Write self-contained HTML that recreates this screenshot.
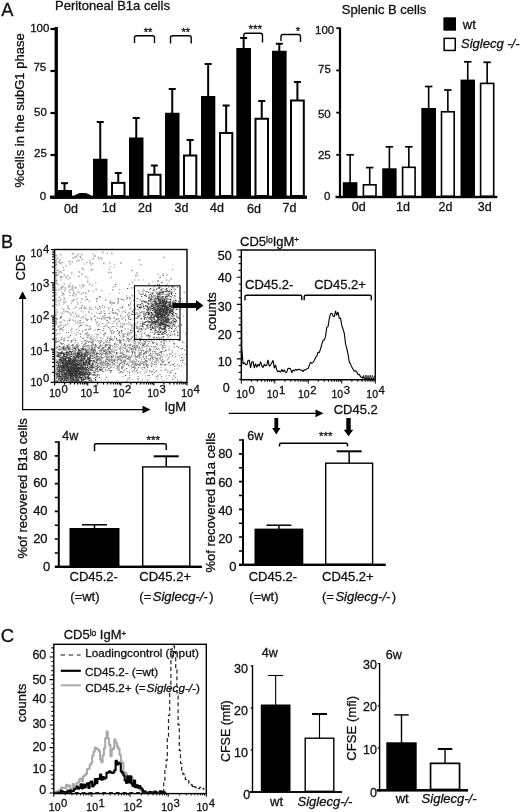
<!DOCTYPE html>
<html lang="en">
<head>
<meta charset="utf-8">
<title>Figure</title>
<style>
html,body{margin:0;padding:0;background:#fff;}
body{width:520px;height:812px;overflow:hidden;}
svg{display:block;font-family:'Liberation Sans', Arial, Helvetica, sans-serif;}
text{stroke:#111;stroke-width:0.3px;}
</style>
</head>
<body>
<svg width="520" height="812" viewBox="0 0 520 812">
<rect width="520" height="812" fill="#fff"/>
<text x="1.2" y="15.6" font-size="18.3" text-anchor="start" fill="#111">A</text>
<text x="55" y="9.9" font-size="13" text-anchor="start" fill="#111">Peritoneal B1a cells</text>
<text x="24.3" y="110.4" font-size="13.03" text-anchor="middle" transform="rotate(-90 24.3 110.4)" fill="#111">%cells in the subG1 phase</text>
<rect x="54.6" y="27" width="3.3" height="171.7" fill="#000"/>
<rect x="50" y="195.6" width="257" height="3.3" fill="#000"/>
<rect x="50.5" y="153.9" width="5.5" height="2.2" fill="#000"/>
<rect x="50.5" y="111.9" width="5.5" height="2.2" fill="#000"/>
<rect x="50.5" y="69.9" width="5.5" height="2.2" fill="#000"/>
<rect x="50.5" y="27.9" width="5.5" height="2.2" fill="#000"/>
<text x="49.4" y="31.6" font-size="11.5" text-anchor="end" fill="#111">100</text>
<text x="46.2" y="71.3" font-size="11.5" text-anchor="end" fill="#111">75</text>
<text x="46.9" y="115.7" font-size="11.5" text-anchor="end" fill="#111">50</text>
<text x="46.9" y="156.5" font-size="11.5" text-anchor="end" fill="#111">25</text>
<text x="46.2" y="200.2" font-size="11.5" text-anchor="end" fill="#111">0</text>
<line x1="64.5" y1="183.2" x2="64.5" y2="191" stroke="#000" stroke-width="2"/>
<line x1="61" y1="183.2" x2="68" y2="183.2" stroke="#000" stroke-width="2"/>
<rect x="57" y="190" width="15" height="7" fill="#000"/>
<line x1="100.25" y1="122" x2="100.25" y2="159.75" stroke="#000" stroke-width="2"/>
<line x1="96.75" y1="122" x2="103.75" y2="122" stroke="#000" stroke-width="2"/>
<rect x="93" y="158.75" width="14.5" height="38.25" fill="#000"/>
<line x1="118.25" y1="173" x2="118.25" y2="182.9" stroke="#000" stroke-width="2"/>
<line x1="114.75" y1="173" x2="121.75" y2="173" stroke="#000" stroke-width="2"/>
<rect x="112" y="182.9" width="12.5" height="13.1" fill="#fff" stroke="#000" stroke-width="2"/>
<line x1="136.25" y1="118" x2="136.25" y2="138.5" stroke="#000" stroke-width="2"/>
<line x1="132.75" y1="118" x2="139.75" y2="118" stroke="#000" stroke-width="2"/>
<rect x="129" y="137.5" width="14.5" height="59.5" fill="#000"/>
<line x1="154.4" y1="165.5" x2="154.4" y2="174.75" stroke="#000" stroke-width="2"/>
<line x1="150.9" y1="165.5" x2="157.9" y2="165.5" stroke="#000" stroke-width="2"/>
<rect x="148.3" y="174.75" width="12.2" height="21.25" fill="#fff" stroke="#000" stroke-width="2"/>
<line x1="172.25" y1="89" x2="172.25" y2="113.75" stroke="#000" stroke-width="2"/>
<line x1="168.75" y1="89" x2="175.75" y2="89" stroke="#000" stroke-width="2"/>
<rect x="165" y="112.75" width="14.5" height="84.25" fill="#000"/>
<line x1="190.15" y1="140" x2="190.15" y2="155.5" stroke="#000" stroke-width="2"/>
<line x1="186.65" y1="140" x2="193.65" y2="140" stroke="#000" stroke-width="2"/>
<rect x="184" y="155.5" width="12.3" height="40.5" fill="#fff" stroke="#000" stroke-width="2"/>
<line x1="208.15" y1="64" x2="208.15" y2="97" stroke="#000" stroke-width="2"/>
<line x1="204.65" y1="64" x2="211.65" y2="64" stroke="#000" stroke-width="2"/>
<rect x="201" y="96" width="14.3" height="101" fill="#000"/>
<line x1="226.15" y1="105.5" x2="226.15" y2="133" stroke="#000" stroke-width="2"/>
<line x1="222.65" y1="105.5" x2="229.65" y2="105.5" stroke="#000" stroke-width="2"/>
<rect x="220" y="133" width="12.3" height="63" fill="#fff" stroke="#000" stroke-width="2"/>
<line x1="243.65" y1="38" x2="243.65" y2="49" stroke="#000" stroke-width="2"/>
<line x1="240.15" y1="38" x2="247.15" y2="38" stroke="#000" stroke-width="2"/>
<rect x="236.3" y="48" width="14.7" height="149" fill="#000"/>
<line x1="261.75" y1="101" x2="261.75" y2="118.75" stroke="#000" stroke-width="2"/>
<line x1="258.25" y1="101" x2="265.25" y2="101" stroke="#000" stroke-width="2"/>
<rect x="255.5" y="118.75" width="12.5" height="77.25" fill="#fff" stroke="#000" stroke-width="2"/>
<line x1="279.3" y1="43.75" x2="279.3" y2="51.75" stroke="#000" stroke-width="2"/>
<line x1="275.8" y1="43.75" x2="282.8" y2="43.75" stroke="#000" stroke-width="2"/>
<rect x="272" y="50.75" width="14.6" height="146.25" fill="#000"/>
<line x1="297.4" y1="82" x2="297.4" y2="100.5" stroke="#000" stroke-width="2"/>
<line x1="293.9" y1="82" x2="300.9" y2="82" stroke="#000" stroke-width="2"/>
<rect x="291" y="100.5" width="12.8" height="95.5" fill="#fff" stroke="#000" stroke-width="2"/>
<path d="M74.5 197V195.6Q77 193.6 80 192.9H85.5Q88.5 193.6 91 195.6V197Z" fill="#000" stroke="none" stroke-width="0"/>
<path d="M134.5 43 V37.75 Q134.5 35.75 136.5 35.75 H152.5 Q154.5 35.75 154.5 37.75 V43" fill="none" stroke="#000" stroke-width="1.4"/>
<path d="M170.5 43.5 V37.75 Q170.5 35.75 172.5 35.75 H189.2 Q191.2 35.75 191.2 37.75 V43.5" fill="none" stroke="#000" stroke-width="1.4"/>
<path d="M243.75 38 V35.25 Q243.75 33.25 245.75 33.25 H260.5 Q262.5 33.25 262.5 35.25 V42.5" fill="none" stroke="#000" stroke-width="1.4"/>
<path d="M281 41 V36.5 Q281 34.5 283 34.5 H298.5 Q300.5 34.5 300.5 36.5 V42" fill="none" stroke="#000" stroke-width="1.4"/>
<text x="148.1" y="36.2" font-size="11" text-anchor="middle" fill="#111">**</text>
<text x="185.8" y="36.2" font-size="11" text-anchor="middle" fill="#111">**</text>
<text x="255.3" y="33.2" font-size="11.5" text-anchor="middle" fill="#111">***</text>
<text x="297.8" y="34.8" font-size="11" text-anchor="middle" fill="#111">*</text>
<text x="71" y="213.3" font-size="12.5" text-anchor="middle" fill="#111">0d</text>
<text x="109" y="211.5" font-size="12.5" text-anchor="middle" fill="#111">1d</text>
<text x="145" y="211.75" font-size="12.5" text-anchor="middle" fill="#111">2d</text>
<text x="181.5" y="211.75" font-size="12.5" text-anchor="middle" fill="#111">3d</text>
<text x="217" y="211.75" font-size="12.5" text-anchor="middle" fill="#111">4d</text>
<text x="254" y="213.25" font-size="12.5" text-anchor="middle" fill="#111">6d</text>
<text x="289.4" y="211.75" font-size="12.5" text-anchor="middle" fill="#111">7d</text>
<text x="341.8" y="13.6" font-size="13" text-anchor="start" fill="#111">Splenic B cells</text>
<rect x="338.9" y="27.5" width="2.2" height="170.7" fill="#000"/>
<rect x="335.5" y="195.8" width="161.8" height="2.4" fill="#000"/>
<rect x="336.3" y="153.91" width="3.7" height="1.8" fill="#000"/>
<rect x="336.3" y="111.72" width="3.7" height="1.8" fill="#000"/>
<rect x="336.3" y="69.54" width="3.7" height="1.8" fill="#000"/>
<rect x="336.3" y="27.35" width="3.7" height="1.8" fill="#000"/>
<text x="334.2" y="34.2" font-size="11.5" text-anchor="end" fill="#111">100</text>
<text x="330.9" y="73.1" font-size="11.5" text-anchor="end" fill="#111">75</text>
<text x="330.7" y="117.6" font-size="11.5" text-anchor="end" fill="#111">50</text>
<text x="330.7" y="158.7" font-size="11.5" text-anchor="end" fill="#111">25</text>
<text x="330.5" y="200.1" font-size="11.5" text-anchor="end" fill="#111">0</text>
<line x1="350.1" y1="154.8" x2="350.1" y2="183.2" stroke="#000" stroke-width="1.6"/>
<line x1="346.35" y1="154.8" x2="353.85" y2="154.8" stroke="#000" stroke-width="1.7"/>
<rect x="342.8" y="182.2" width="14.6" height="14.8" fill="#000"/>
<line x1="369.7" y1="167.6" x2="369.7" y2="185" stroke="#000" stroke-width="1.6"/>
<line x1="365.95" y1="167.6" x2="373.45" y2="167.6" stroke="#000" stroke-width="1.7"/>
<rect x="363.4" y="184.8" width="12.6" height="11.4" fill="#fff" stroke="#000" stroke-width="1.6"/>
<line x1="389.4" y1="146.8" x2="389.4" y2="169.3" stroke="#000" stroke-width="1.6"/>
<line x1="385.65" y1="146.8" x2="393.15" y2="146.8" stroke="#000" stroke-width="1.7"/>
<rect x="382.2" y="168.3" width="14.4" height="28.7" fill="#000"/>
<line x1="408.85" y1="146.8" x2="408.85" y2="167.5" stroke="#000" stroke-width="1.6"/>
<line x1="405.1" y1="146.8" x2="412.6" y2="146.8" stroke="#000" stroke-width="1.7"/>
<rect x="402.6" y="167.3" width="12.5" height="28.9" fill="#fff" stroke="#000" stroke-width="1.6"/>
<line x1="428.65" y1="86.5" x2="428.65" y2="109" stroke="#000" stroke-width="1.6"/>
<line x1="424.9" y1="86.5" x2="432.4" y2="86.5" stroke="#000" stroke-width="1.7"/>
<rect x="421.3" y="108" width="14.7" height="89" fill="#000"/>
<line x1="447.85" y1="90" x2="447.85" y2="112" stroke="#000" stroke-width="1.6"/>
<line x1="444.1" y1="90" x2="451.6" y2="90" stroke="#000" stroke-width="1.7"/>
<rect x="441.5" y="111.8" width="12.7" height="84.4" fill="#fff" stroke="#000" stroke-width="1.6"/>
<line x1="467.75" y1="61.8" x2="467.75" y2="80.6" stroke="#000" stroke-width="1.6"/>
<line x1="464" y1="61.8" x2="471.5" y2="61.8" stroke="#000" stroke-width="1.7"/>
<rect x="460.5" y="79.6" width="14.5" height="117.4" fill="#000"/>
<line x1="487.15" y1="62.3" x2="487.15" y2="83.6" stroke="#000" stroke-width="1.6"/>
<line x1="483.4" y1="62.3" x2="490.9" y2="62.3" stroke="#000" stroke-width="1.7"/>
<rect x="480.6" y="83.4" width="13.1" height="112.8" fill="#fff" stroke="#000" stroke-width="1.6"/>
<text x="358.7" y="211.4" font-size="12.5" text-anchor="middle" fill="#111">0d</text>
<text x="403" y="211.4" font-size="12.5" text-anchor="middle" fill="#111">1d</text>
<text x="445.5" y="211.4" font-size="12.5" text-anchor="middle" fill="#111">2d</text>
<text x="484.8" y="211.4" font-size="12.5" text-anchor="middle" fill="#111">3d</text>
<rect x="443.4" y="17.3" width="12.6" height="13.4" fill="#000"/>
<rect x="444.15" y="38.35" width="11.1" height="12.1" fill="#fff" stroke="#000" stroke-width="1.5"/>
<text x="462.8" y="28.8" font-size="13" text-anchor="start" fill="#111">wt</text>
<text x="461" y="47.8" font-size="13" text-anchor="start" font-style="italic" fill="#111">Siglecg -/-</text>
<text x="0.9" y="248.3" font-size="18" text-anchor="start" fill="#111">B</text>
<path d="M98 259h1.6M60.5 272.5h1.6M87 278h1.6M138 280h1.6M128.5 284.5h1.6M68.5 286h1.6M76.5 255.5h1.6M80 257.5h1.6M88.5 301.5h1.6M90 265h1.6M71 301h1.6M101 290.5h1.6M74 257h1.6M89 260.5h1.6M129 297.5h1.6M74.5 287.5h1.6M92 263.5h1.6M62.5 267.5h1.6M100.5 311.5h1.6M61.5 314h1.6M82.5 286.5h1.6M77.5 254h1.6M63 309.5h1.6M58.5 263h1.6M71.5 288h1.6M90.5 317.5h1.6M80.5 294h1.6M86 262.5h1.6M58 290h1.6M108.5 269.5h1.6M77 304h1.6M65.5 266h1.6M110.5 272.5h1.6M97.5 257.5h1.6M63.5 298h1.6M63 325.5h1.6M59.5 277h1.6M56 259h1.6M109 263h1.6M76 299h1.6M85 300h1.6M61.5 262.5h1.6M63.5 299.5h1.6M71.5 288.5h1.6M67 321h1.6M59 301h1.6M60 299.5h1.6M106.5 253.5h1.6M62 286.5h1.6M57 258h1.6M70.5 314.5h1.6M64 320.5h1.6M56 281h1.6M58 273h1.6M63.5 284h1.6M118.5 293h1.6M85 315h1.6M60 263.5h1.6M83 269.5h1.6M175.5 309.5h1.6M130.5 288h1.6M149 304h1.6M181.5 302h1.6M135.5 313h1.6M154.5 328.5h1.6M142.5 289.5h1.6M185 333.5h1.6M143.5 290.5h1.6M164 322.5h1.6M157.5 298.5h1.6M166 339.5h1.6M177 335.5h1.6M179 298.5h1.6M154 300h1.6M130.5 340h1.6M160 289.5h1.6M81.5 285h1.6M90 339h1.6M66.5 311.5h1.6M103.5 316h1.6M119.5 307.5h1.6M86.5 336h1.6M123.5 318h1.6M131 328h1.6M105 340h1.6M86.5 334.5h1.6M66.5 345.5h1.6M69 320.5h1.6M137 328h1.6M134.5 348.5h1.6M78 316h1.6M130 330h1.6M63.5 344.5h1.6M96.5 338h1.6M62 329.5h1.6M57.5 326.5h1.6M63 339h1.6M71 340.5h1.6M91 309h1.6M134.5 346.5h1.6M57 342h1.6M112 312.5h1.6M116 319h1.6M96.5 317.5h1.6M106 326h1.6M79.5 334h1.6M72.5 346h1.6M135 324h1.6M126.5 340h1.6M139 347h1.6M138 343h1.6" fill="none" stroke="#acacac" stroke-width="1.6" opacity="0.85"/>
<path d="M65 277.5h1.6M61.5 293h1.6M110.5 277.5h1.6M131.5 282.5h1.6M140 264.5h1.6M85 308.5h1.6M67.5 306h1.6M114.5 313h1.6M133.5 305h1.6M72 312.5h1.6M56 283.5h1.6M58.5 297.5h1.6M69.5 278h1.6M67 308h1.6M117 303.5h1.6M69 292.5h1.6M60 254.5h1.6M83 285.5h1.6M128 322.5h1.6M68 287h1.6M72 301h1.6M61.5 295.5h1.6M73 293.5h1.6M58.5 304h1.6M72.5 258h1.6M69.5 264h1.6M66.5 276h1.6M61 277h1.6M101 258.5h1.6M69 313h1.6M82.5 293h1.6M71.5 253.5h1.6M60 316.5h1.6M85 276.5h1.6M56.5 270.5h1.6M56.5 312h1.6M100 258h1.6M98.5 296.5h1.6M63 302h1.6M60.5 287.5h1.6M85 297h1.6M91.5 285.5h1.6M78 276.5h1.6M69 319h1.6M116.5 314h1.6M105 300h1.6M71 273h1.6M84 307h1.6M72 286h1.6M63 270h1.6M75.5 257h1.6M75.5 294.5h1.6M89 284h1.6M71.5 262h1.6M150 327.5h1.6M171.5 334.5h1.6M143 324.5h1.6M163 303.5h1.6M173 302h1.6M161 306h1.6M134 318h1.6M167.5 296h1.6M118 333.5h1.6M89.5 326.5h1.6M94.5 340h1.6M71 329h1.6M61 337.5h1.6M98.5 324.5h1.6M132.5 331.5h1.6M58.5 326.5h1.6M84.5 330h1.6M81 325h1.6M110 338.5h1.6M68.5 309h1.6M110 336.5h1.6M124.5 344.5h1.6M131.5 336.5h1.6M102.5 348.5h1.6M76.5 347.5h1.6M112.5 339h1.6M137 309.5h1.6M139.5 315h1.6M105.5 344.5h1.6M75.5 335h1.6M123 334.5h1.6M86.5 332.5h1.6M90.5 345.5h1.6M65 325.5h1.6M133.5 335h1.6" fill="none" stroke="#9e9e9e" stroke-width="1.6" opacity="0.85"/>
<path d="M131.5 295.5h1.6M163.5 257.5h1.6M131 270.5h1.6M103 263.5h1.6M60.5 289h1.6M85 293h1.6M143 323h1.6M64.5 288h1.6M59 260h1.6M135 275.5h1.6M78.5 272h1.6M72.5 290.5h1.6M64 290.5h1.6M73 299.5h1.6M75.5 307h1.6M61.5 287h1.6M58.5 262h1.6M88 291h1.6M113 313h1.6M81 254.5h1.6M78 292.5h1.6M74.5 313.5h1.6M95.5 289.5h1.6M112 290h1.6M120 263h1.6M60 317.5h1.6M108 272.5h1.6M92.5 258.5h1.6M78 260.5h1.6M59.5 271.5h1.6M63.5 275h1.6M81 274h1.6M111 253.5h1.6M81.5 268.5h1.6M60.5 277.5h1.6M79.5 256.5h1.6M94.5 256h1.6M75 287.5h1.6M72 295.5h1.6M112 313h1.6M96.5 298.5h1.6M90.5 270h1.6M57 275h1.6M138.5 260h1.6M80 325.5h1.6M86 320h1.6M79.5 322.5h1.6M87 281.5h1.6M69 290h1.6M71.5 288h1.6M68.5 261.5h1.6M88 312h1.6M89.5 263h1.6M56.5 270.5h1.6M67 312h1.6M89 307.5h1.6M81.5 299h1.6M81.5 259.5h1.6M55.5 324h1.6M102 252.5h1.6M183.5 292.5h1.6M174.5 289.5h1.6M174.5 326h1.6M157.5 307h1.6M156 315.5h1.6M139.5 299.5h1.6M141.5 301h1.6M147 307.5h1.6M128.5 333.5h1.6M139 338.5h1.6M182 306h1.6M140.5 306h1.6M163 321h1.6M174 322h1.6M165 291h1.6M92 344h1.6M68 344.5h1.6M89.5 328.5h1.6M92 345h1.6M109.5 349h1.6M133.5 336.5h1.6M94 316.5h1.6M134.5 349.5h1.6M98.5 318.5h1.6M110 339.5h1.6M80.5 308h1.6M135.5 338.5h1.6M99.5 345.5h1.6M97.5 326h1.6M103 334.5h1.6M136.5 347h1.6M92.5 339.5h1.6M83.5 308.5h1.6M99.5 297h1.6M139 339.5h1.6M61 344h1.6M104.5 333.5h1.6M92.5 341.5h1.6M113 332h1.6M112.5 333h1.6M90.5 339h1.6M59.5 328.5h1.6M129 298.5h1.6" fill="none" stroke="#929292" stroke-width="1.6" opacity="0.85"/>
<path d="M136.5 275.5h1.6M157 274h1.6M63 294.5h1.6M77.5 317h1.6M76 261h1.6M71 289h1.6M57.5 270.5h1.6M72 320h1.6M80 302.5h1.6M69.5 286h1.6M80.5 288h1.6M73 317h1.6M112.5 287h1.6M109.5 267h1.6M101.5 307.5h1.6M84.5 318h1.6M62.5 311.5h1.6M74.5 296h1.6M61.5 313h1.6M103 318.5h1.6M92.5 254h1.6M56 309.5h1.6M70.5 303.5h1.6M113.5 267.5h1.6M76.5 302h1.6M77 322.5h1.6M114 264.5h1.6M59.5 325.5h1.6M73 254h1.6M87.5 290.5h1.6M79 285.5h1.6M57.5 301h1.6M65 301.5h1.6M83.5 264h1.6M82.5 317h1.6M96.5 308.5h1.6M96 313h1.6M60 280h1.6M61 286.5h1.6M68 286h1.6M92 269.5h1.6M56.5 306h1.6M67 279h1.6M67 324h1.6M109.5 312h1.6M93.5 256h1.6M74.5 288h1.6M95 283h1.6M78.5 308.5h1.6M79 323.5h1.6M86.5 320.5h1.6M77 321.5h1.6M76.5 291.5h1.6M169 296.5h1.6M139 305.5h1.6M130 308h1.6M129.5 298.5h1.6M169.5 311h1.6M174 335.5h1.6M152.5 339.5h1.6M138 293h1.6M175.5 330h1.6M132.5 287.5h1.6M121.5 339h1.6M133 330.5h1.6M107.5 348.5h1.6M118.5 333.5h1.6M85.5 334h1.6M102 338.5h1.6M94 348.5h1.6M70 315h1.6M85 342.5h1.6M77.5 333h1.6M135 344h1.6M57.5 327h1.6M75.5 332.5h1.6M74 338.5h1.6M135.5 335.5h1.6M109 322.5h1.6M56 347h1.6M122 312h1.6M126.5 334h1.6M126 298h1.6M128 341h1.6M82.5 312h1.6M69 283.5h1.6M64 349h1.6M133 330.5h1.6M62 331h1.6M139 291.5h1.6" fill="none" stroke="#bababa" stroke-width="1.6" opacity="0.85"/>
<path d="M55.5 318h1.2M55.5 304.5h1.2M55.5 276h1.2M55.5 293h1.2M55.5 338h1.2M55.5 268h1.2M55.5 321h1.2M55.5 322.5h1.2M55.5 295h1.2M119 339.5h1.2M128 338.5h1.2M128 318.5h1.2M107 349.5h1.2M73 293h1.2M109 319h1.2M75 321h1.2M118.5 311h1.2M60 318.5h1.2M90.5 337h1.2M129 345.5h1.2M104.5 342h1.2M64.5 338h1.2M133 342h1.2M133 342h1.2M75.5 350h1.2M122 327.5h1.2M109 340.5h1.2M84 348.5h1.2M96 299h1.2M100 338h1.2M114 343.5h1.2M114 336.5h1.2M78 349h1.2M81 308h1.2M138.5 348.5h1.2M117 326h1.2M90.5 319h1.2M56.5 319.5h1.2M107 340.5h1.2M132.5 345.5h1.2M98 329.5h1.2M89.5 329h1.2M60 342.5h1.2M58.5 322h1.2M124 344.5h1.2M88.5 345.5h1.2M66 332.5h1.2M60.5 325h1.2M62.5 327.5h1.2M96 346h1.2M122 326h1.2M126 324h1.2M119 335.5h1.2M123.5 336.5h1.2M79.5 325.5h1.2M103.5 336h1.2M120.5 326.5h1.2M89 309.5h1.2M70 335.5h1.2M112.5 348h1.2M83 338.5h1.2M96 301.5h1.2M92.5 337h1.2M81.5 343.5h1.2M131.5 348.5h1.2M146 361.5h1.2M177 380h1.2M153.5 342.5h1.2M88.5 374h1.2M132 371.5h1.2M124 356.5h1.2M88 357.5h1.2M103 362h1.2M98 348.5h1.2M157 379h1.2M161 376.5h1.2M160.5 341.5h1.2M86.5 341.5h1.2M95.5 367h1.2M125 346h1.2M131 351.5h1.2M105.5 364h1.2M133 367h1.2M172 379.5h1.2M144 359h1.2M144 361.5h1.2M100.5 362h1.2M78 353h1.2M163.5 361h1.2M69.5 363.5h1.2M146 340.5h1.2M95.5 368.5h1.2M175 356.5h1.2M123 361h1.2M161 342.5h1.2M58.5 376h1.2M169 354h1.2M92.5 350h1.2M83.5 376h1.2M151.5 371.5h1.2M80.5 370h1.2M148.5 341.5h1.2M143 364h1.2M83 378h1.2M163.5 351.5h1.2M126.5 350.5h1.2M77.5 354.5h1.2M132 350h1.2M77.5 343h1.2M141 343h1.2M165 350.5h1.2M138.5 356.5h1.2M74.5 343h1.2M181 365.5h1.2M168.5 362h1.2M182 348.5h1.2M84.5 374.5h1.2M168 363h1.2M86.5 355.5h1.2M160.5 370.5h1.2M70.5 341h1.2M169.5 373h1.2M169.5 365.5h1.2M172 364.5h1.2M180.5 381h1.2M175 377.5h1.2M65 348h1.2M86.5 341h1.2M92.5 361h1.2M91 366.5h1.2M86 370h1.2M58 365h1.2M65.5 365h1.2M64 370h1.2M85.5 372h1.2M74.5 361h1.2M75.5 365.5h1.2M82 380h1.2M79.5 374h1.2M72 365.5h1.2M74 371h1.2M66.5 355h1.2M71.5 378h1.2M62 375h1.2M64 378.5h1.2M74 373h1.2M76 361h1.2M64.5 363.5h1.2M72 378h1.2M85 366h1.2M76.5 364h1.2M73 366h1.2M78.5 379h1.2M82.5 370.5h1.2M76 365h1.2M73 351h1.2M70.5 374.5h1.2M100 367.5h1.2M64.5 364h1.2M69.5 364h1.2M66.5 369h1.2M88.5 359.5h1.2M76.5 367.5h1.2M82 353h1.2M74 380.5h1.2M67.5 373h1.2M91.5 366.5h1.2M70.5 364.5h1.2M82.5 378h1.2M67 363h1.2M69.5 368h1.2M69.5 372.5h1.2M72 374.5h1.2M82 370h1.2M94 372.5h1.2M76.5 365h1.2M74 368.5h1.2M68 354h1.2M87.5 359h1.2M62 361h1.2M74 374h1.2M62 374.5h1.2M96.5 364h1.2M58 363.5h1.2M66 346h1.2M69.5 368.5h1.2M69 371h1.2M57 368h1.2M56.5 372h1.2M73 366h1.2M73.5 362.5h1.2M65.5 359h1.2M63 366h1.2M89 357h1.2M84 358h1.2M89 365h1.2M70 354.5h1.2M67.5 368.5h1.2M65 368.5h1.2M63 361.5h1.2M76.5 372h1.2M81 361h1.2M60 371.5h1.2M75.5 375h1.2M74.5 364h1.2M61.5 357h1.2M63.5 367h1.2M87.5 360.5h1.2M84.5 362.5h1.2M62.5 343.5h1.2M82.5 365.5h1.2M59 375h1.2M67 380.5h1.2M68 366h1.2M74 374.5h1.2M71 363.5h1.2M77 375h1.2M96 369.5h1.2M123 356.5h1.2M73.5 370h1.2M89.5 353h1.2M77 374h1.2M83.5 354.5h1.2M65.5 369h1.2M65 359.5h1.2M72.5 381h1.2M72.5 364.5h1.2M76 356.5h1.2M82 379.5h1.2M79.5 352h1.2M58.5 375.5h1.2M101 362h1.2M77 381.5h1.2M65.5 380h1.2M72.5 367h1.2M71 377h1.2M105.5 377.5h1.2M81.5 372h1.2M75 354.5h1.2M82.5 380h1.2M84 374.5h1.2M79.5 367.5h1.2M71 376.5h1.2M74.5 368.5h1.2M81 372h1.2M80.5 377.5h1.2M76.5 368h1.2M64 372h1.2M78 366h1.2M81.5 372h1.2M78 349.5h1.2M78 350.5h1.2M67 352h1.2M83 359.5h1.2M71.5 369.5h1.2M84.5 381.5h1.2M62 371.5h1.2M64.5 380.5h1.2M71.5 361.5h1.2M74.5 380.5h1.2M77.5 364.5h1.2M65.5 380h1.2M63.5 359.5h1.2M67 364.5h1.2M80 373h1.2M66.5 374.5h1.2M57.5 364h1.2M87 374.5h1.2M68 362h1.2M74.5 365h1.2M61.5 371.5h1.2M88.5 360.5h1.2M79 357h1.2M63 370.5h1.2M74 372.5h1.2M64.5 375h1.2M67 364h1.2M60.5 354h1.2M77 374.5h1.2M92.5 364.5h1.2M93.5 378.5h1.2M66.5 367h1.2M66 372h1.2M87.5 376.5h1.2M77.5 365h1.2M86 371.5h1.2M59 349h1.2M61 371.5h1.2M70.5 372h1.2M60 376.5h1.2M94.5 364h1.2M63.5 369h1.2M68 367.5h1.2M67.5 378.5h1.2M79 365.5h1.2M61 370h1.2M70.5 359.5h1.2M59 378.5h1.2M70 373.5h1.2M68.5 359h1.2M72.5 364h1.2M68 364.5h1.2M67.5 381h1.2M72.5 369h1.2M79 381.5h1.2M65 369h1.2M74.5 371h1.2M81.5 367.5h1.2M72 380h1.2M83 375h1.2M72 368h1.2M72 360h1.2M64.5 369h1.2M80.5 366.5h1.2M74 368.5h1.2M74 370.5h1.2M73.5 364.5h1.2M70.5 370.5h1.2M61 372.5h1.2M74.5 369h1.2M61 371h1.2M82 376h1.2M70.5 360.5h1.2M65 362h1.2M60 364h1.2M77 367.5h1.2M76.5 369.5h1.2M74 373.5h1.2M73 377h1.2M84 369h1.2M58.5 355.5h1.2M74 373h1.2M74 375.5h1.2M61.5 375.5h1.2M84 365.5h1.2M73 369h1.2M65 368.5h1.2M77.5 370h1.2M62.5 376.5h1.2M81.5 364h1.2M78.5 361h1.2M73 368.5h1.2M77.5 381h1.2M68.5 367h1.2M68.5 361.5h1.2M74.5 363.5h1.2M82 363h1.2M79.5 365.5h1.2M70.5 371h1.2M57.5 375.5h1.2M68.5 370.5h1.2M66.5 376.5h1.2M69 373h1.2M71 370.5h1.2M88 377.5h1.2M74 374.5h1.2M76.5 373.5h1.2M89 357h1.2M74.5 374h1.2M63 369h1.2M64 370h1.2M63 377h1.2M77.5 368h1.2M91 366.5h1.2M80.5 378h1.2M57 362h1.2M67 352.5h1.2M62.5 369.5h1.2M85 377.5h1.2M86 376h1.2M65.5 358h1.2M64.5 364h1.2M89 363.5h1.2M88.5 353.5h1.2M69.5 378.5h1.2M73 364.5h1.2M81.5 381h1.2M78.5 357h1.2M90 366h1.2M83 361.5h1.2M87.5 361h1.2M72 377.5h1.2M73.5 372.5h1.2M66.5 361.5h1.2M83.5 357.5h1.2M62 357.5h1.2M58.5 355h1.2M81.5 363h1.2M86 363h1.2M68 359.5h1.2M66 370h1.2M74 377h1.2M58.5 353h1.2M89.5 380.5h1.2M83.5 369h1.2M72 360h1.2M79 372h1.2M63 381h1.2M76 357h1.2M90 368h1.2M71 364.5h1.2M85 357.5h1.2M68 370h1.2M84.5 372h1.2M62.5 363h1.2M77.5 370h1.2M63 357.5h1.2M59.5 366h1.2M83 371.5h1.2M90.5 367h1.2M66 372h1.2M82.5 369.5h1.2M71.5 363.5h1.2M74 353h1.2M58 364.5h1.2M65.5 370h1.2M68 381h1.2M76.5 380h1.2M61 376h1.2M82 352h1.2M66.5 373h1.2M87 354h1.2M73.5 358.5h1.2M56 365h1.2M57 375.5h1.2M86.5 359.5h1.2M91 352h1.2M85 350.5h1.2M81.5 353h1.2M75.5 353h1.2M66.5 347.5h1.2M88 350h1.2M64.5 353.5h1.2M93.5 349.5h1.2M91 347h1.2M64.5 348.5h1.2M61.5 353.5h1.2M62.5 348h1.2M63 347.5h1.2M87.5 347h1.2M70.5 351.5h1.2M61.5 352h1.2M85.5 351.5h1.2M73.5 354h1.2M60.5 350h1.2M81.5 349h1.2M81 353.5h1.2M84 346.5h1.2M91 350.5h1.2M62.5 349h1.2M58.5 346.5h1.2M61 352.5h1.2M76.5 346h1.2M63 347.5h1.2M121 355.5h1.2M100.5 367.5h1.2M116.5 356.5h1.2M72.5 363h1.2M110 353.5h1.2M122.5 364.5h1.2M96.5 357.5h1.2M115.5 353.5h1.2M97 369h1.2M99 354.5h1.2M147.5 365h1.2M110 365h1.2M111 351h1.2M92.5 357h1.2M109.5 348h1.2M78 367.5h1.2M155.5 362.5h1.2M90.5 342h1.2M120.5 360h1.2M95 369.5h1.2M117 360.5h1.2M105 369.5h1.2M108 347h1.2M98.5 347.5h1.2M88 353h1.2M110.5 367h1.2M97.5 359h1.2M147 381h1.2M112.5 351h1.2M129.5 357h1.2M90.5 356.5h1.2M93 344.5h1.2M144.5 347h1.2M110 365h1.2M115.5 362.5h1.2M115.5 345h1.2M105 346.5h1.2M116.5 368h1.2M108 360h1.2M101.5 359h1.2M99 358h1.2M83.5 365.5h1.2M134.5 346h1.2M136 345.5h1.2M100 353.5h1.2M79 351.5h1.2M90 358.5h1.2M145 352.5h1.2M108 349h1.2M113 355.5h1.2M135 362h1.2M102.5 347.5h1.2M87.5 360.5h1.2M120 353h1.2M98 358.5h1.2M100.5 350h1.2M109 353h1.2M95 362h1.2M79 356h1.2M93 372.5h1.2M108 348h1.2M126.5 351h1.2M118.5 370.5h1.2M99.5 360.5h1.2M106 352.5h1.2M67.5 355.5h1.2M136 370.5h1.2M107 359h1.2M92.5 367h1.2M91 366h1.2M72 355h1.2M122 367h1.2M120 358h1.2M91 355.5h1.2M140.5 368h1.2M85 362.5h1.2M120.5 353.5h1.2M89 364h1.2M118.5 359h1.2M121.5 368.5h1.2M122 353.5h1.2M99.5 352h1.2M113.5 360.5h1.2M112 346h1.2M100 360h1.2M96.5 375.5h1.2M73 340h1.2M105 363.5h1.2M121 345h1.2M114 360h1.2M74.5 348h1.2M122 348h1.2M123.5 345.5h1.2M96.5 360h1.2M117.5 370h1.2M129.5 357.5h1.2M86.5 356.5h1.2M103.5 367.5h1.2M109.5 352h1.2M110.5 371h1.2M90 362h1.2M99.5 346h1.2M136 361h1.2M102.5 357.5h1.2M119.5 355.5h1.2M69 364h1.2M77.5 355.5h1.2M107.5 357.5h1.2M142.5 367.5h1.2M108 368.5h1.2M103.5 351h1.2M160.5 356.5h1.2M174.5 354h1.2M149.5 359.5h1.2M159.5 355.5h1.2M151.5 357.5h1.2M162.5 347.5h1.2M153.5 357.5h1.2M151 372h1.2M147.5 375.5h1.2M152 374.5h1.2M155 353.5h1.2M134 341.5h1.2M151 346.5h1.2M134.5 372h1.2M129.5 361h1.2M106 353h1.2M139.5 350h1.2M131 362h1.2M125 361.5h1.2M136.5 363.5h1.2M139 353h1.2M138 367.5h1.2M163.5 365h1.2M151 340h1.2M146.5 370h1.2M150.5 363h1.2M158 362h1.2M156 370.5h1.2M120.5 371.5h1.2M151 366.5h1.2M141 350.5h1.2M135.5 359.5h1.2M134.5 354h1.2M153 359.5h1.2M145 360.5h1.2M156 344.5h1.2M118 340.5h1.2M140.5 355h1.2M184 350h1.2M144.5 344h1.2M167.5 371h1.2M144 339.5h1.2M185.5 354h1.2M120 342h1.2M182 360.5h1.2M156.5 359.5h1.2M134.5 356h1.2M149 371.5h1.2M137 357h1.2M116 352.5h1.2M145 351.5h1.2M148 343.5h1.2M147 367.5h1.2M156.5 295h1.2M158 325h1.2M157.5 301h1.2M169.5 339.5h1.2M150.5 307h1.2M168.5 304h1.2M167 298.5h1.2M164.5 305h1.2M160.5 306.5h1.2M155 313h1.2M163.5 294.5h1.2M167.5 295h1.2M175 328.5h1.2M157 309.5h1.2M158.5 314.5h1.2M155 298h1.2M165 314.5h1.2M170 296.5h1.2M163 306h1.2M160.5 318.5h1.2M161.5 292h1.2M159.5 317h1.2M176.5 315h1.2M154.5 312.5h1.2M155.5 323.5h1.2M154.5 323.5h1.2M169 312h1.2M169 306h1.2M163.5 310.5h1.2M169.5 302h1.2M154 321.5h1.2M156.5 288.5h1.2M174 330h1.2M166.5 335h1.2M169 302.5h1.2M163.5 313h1.2M157.5 308.5h1.2M152 314h1.2M158 317.5h1.2M168.5 295.5h1.2M165 327h1.2M164 318h1.2M164.5 323.5h1.2M160.5 290.5h1.2M161.5 294.5h1.2M158.5 307h1.2M153.5 316h1.2M157 313.5h1.2M160.5 301h1.2M158 324.5h1.2M162 322h1.2M169.5 311h1.2M163.5 309.5h1.2M164.5 302.5h1.2M167.5 320h1.2M170.5 309h1.2M168.5 281h1.2M160.5 316.5h1.2M156.5 324.5h1.2M165 313.5h1.2M161 337.5h1.2M150 307h1.2M155.5 322h1.2M156.5 304.5h1.2M171 313.5h1.2M165 296.5h1.2M165.5 303h1.2M162.5 320.5h1.2M163.5 319h1.2M165 309h1.2M166.5 307h1.2M162.5 304.5h1.2M169.5 312h1.2M152.5 305h1.2M160 308h1.2M155.5 331h1.2M151.5 304.5h1.2M155 310h1.2M168.5 326.5h1.2M171 306h1.2M168 307.5h1.2M154 326.5h1.2M159 307.5h1.2M162 302h1.2M158 320.5h1.2M157.5 327h1.2M161 322.5h1.2M172.5 311h1.2M161.5 316h1.2M160 308.5h1.2M164.5 322h1.2M168 328.5h1.2M166.5 296h1.2M160 323.5h1.2M173.5 320h1.2M163.5 308.5h1.2M163 313h1.2M158 311h1.2M151 298h1.2M165.5 308.5h1.2M147 327h1.2M162.5 315.5h1.2M164 305.5h1.2M162 311h1.2M167 313h1.2M162 309h1.2M165.5 321.5h1.2M147.5 320.5h1.2M156 293.5h1.2M172.5 313h1.2M165.5 331h1.2M157.5 298.5h1.2M154.5 312.5h1.2M152.5 308h1.2M166 312.5h1.2M164.5 302.5h1.2M173 300.5h1.2M159 312.5h1.2M169 290h1.2M158.5 307h1.2M162 314.5h1.2M169 305.5h1.2M169.5 301.5h1.2M158 315h1.2M150 307.5h1.2M164 318h1.2M173 320h1.2M165.5 314h1.2M159.5 318.5h1.2M167.5 304.5h1.2M161 309.5h1.2M156 306h1.2M147.5 328.5h1.2M161 302h1.2M163 292h1.2M161.5 310.5h1.2M155 308h1.2M166.5 324h1.2M149.5 309.5h1.2M170 308.5h1.2M135 308h1.2M153.5 312h1.2M160.5 313.5h1.2M149 317h1.2M141.5 337h1.2M166.5 299.5h1.2M164 314.5h1.2M176 316.5h1.2M165.5 301.5h1.2M163.5 319.5h1.2M152.5 323h1.2M154.5 322h1.2M161.5 314h1.2M131.5 333h1.2M159 340h1.2M147.5 321.5h1.2M157 321h1.2M152.5 324h1.2M151 304h1.2M140 307.5h1.2M161.5 322.5h1.2M162 292.5h1.2M163 326.5h1.2M140 323.5h1.2M168.5 307h1.2M148 300.5h1.2M136.5 306h1.2M169 315.5h1.2M165 327h1.2M177.5 318.5h1.2M158 312.5h1.2M146.5 309.5h1.2M136.5 305.5h1.2M145 313.5h1.2M159.5 324.5h1.2M155 310.5h1.2M142.5 301h1.2M166 321.5h1.2M172.5 319h1.2M148.5 338h1.2M155.5 315h1.2M136.5 318.5h1.2M149.5 299.5h1.2M158.5 296h1.2M153 309.5h1.2M150 312.5h1.2M155 303h1.2M159 328h1.2M156 309.5h1.2M171 321.5h1.2M163 319.5h1.2M153.5 321.5h1.2M162 299.5h1.2M143 316.5h1.2M151 316h1.2M151.5 309h1.2M154.5 302h1.2M155 315.5h1.2M158 312h1.2M172.5 321h1.2M150 310.5h1.2M148 336h1.2M154 309h1.2M149 319h1.2M135.5 335h1.2M167.5 315.5h1.2M148 304.5h1.2M141.5 329.5h1.2M164 327.5h1.2M153.5 317.5h1.2M148 312.5h1.2M166 280h1.2M143.5 302h1.2M141.5 301.5h1.2M145.5 291.5h1.2M130 332.5h1.2M151 322h1.2M158.5 293.5h1.2M150 307h1.2M153 288h1.2M142.5 327h1.2M159.5 320h1.2M169 311h1.2M140 312.5h1.2M168 293h1.2M145 315.5h1.2M165.5 310h1.2M162.5 274h1.2M155.5 301.5h1.2M169.5 309h1.2M152.5 343.5h1.2M160 302h1.2M144 318h1.2M175 323h1.2M174 296h1.2M165 285h1.2M158.5 310h1.2M156 313h1.2M164 315h1.2M149 321.5h1.2M162.5 326h1.2M157.5 317h1.2M150.5 303.5h1.2M169 308h1.2M152 302h1.2M161 328h1.2M169.5 317h1.2M146 319h1.2M148 335h1.2M174 326h1.2M153 297h1.2M146 301h1.2M164.5 325.5h1.2M146.5 312.5h1.2M165.5 308h1.2M171.5 324h1.2M157.5 313.5h1.2M140 331.5h1.2M165.5 302h1.2M156.5 315h1.2M161.5 282.5h1.2M161.5 311.5h1.2M130.5 325h1.2M117.5 298.5h1.2M144 333.5h1.2M134 313h1.2M137.5 285.5h1.2M102 323.5h1.2M120 326h1.2M148.5 319h1.2M119.5 341h1.2M122.5 335h1.2M120.5 299h1.2M118 299h1.2M108 309h1.2M112.5 323.5h1.2M142.5 324.5h1.2M137.5 304.5h1.2M115.5 313h1.2M92.5 291h1.2M117.5 302h1.2M108.5 307.5h1.2M128 317h1.2M112 310.5h1.2M114 318h1.2M88.5 335h1.2M146 314.5h1.2M128 304.5h1.2M149.5 322h1.2M88 329.5h1.2M102 316.5h1.2M94.5 330h1.2M123 300h1.2M148.5 318h1.2M119 332.5h1.2M99.5 308h1.2M117.5 300h1.2" fill="none" stroke="#666" stroke-width="1.2" opacity="0.85"/>
<path d="M55.5 264.5h1.2M55.5 272.5h1.2M55.5 280.5h1.2M55.5 341.5h1.2M55.5 315h1.2M55.5 273h1.2M55.5 342.5h1.2M55.5 279h1.2M55.5 290.5h1.2M55.5 339h1.2M55.5 330.5h1.2M55.5 256h1.2M82 331h1.2M139.5 340.5h1.2M88.5 349h1.2M68 347.5h1.2M109.5 346.5h1.2M135.5 326h1.2M100.5 345h1.2M109 347.5h1.2M119.5 343h1.2M108 327.5h1.2M63.5 349.5h1.2M97 330h1.2M89.5 338h1.2M104.5 333h1.2M79.5 320.5h1.2M95 307h1.2M106.5 345.5h1.2M56 348h1.2M104 307h1.2M92 348h1.2M76 316h1.2M116 338.5h1.2M122.5 336h1.2M85.5 333.5h1.2M75 340.5h1.2M132 346.5h1.2M82.5 348h1.2M119.5 340.5h1.2M60.5 322.5h1.2M81 318h1.2M76 347h1.2M118.5 331.5h1.2M108.5 313.5h1.2M60.5 343.5h1.2M56.5 334h1.2M61 329h1.2M103.5 347h1.2M109.5 318.5h1.2M87 299.5h1.2M67.5 340.5h1.2M130.5 338.5h1.2M65.5 348h1.2M60.5 339.5h1.2M171.5 370.5h1.2M123 354.5h1.2M80 374.5h1.2M71.5 369.5h1.2M136.5 347h1.2M74.5 368h1.2M60 366.5h1.2M98 353.5h1.2M92.5 381h1.2M143.5 365.5h1.2M146 352h1.2M105 349.5h1.2M94.5 362h1.2M141 352h1.2M181 357.5h1.2M173 364.5h1.2M144 344h1.2M141.5 363.5h1.2M175 373.5h1.2M178 347.5h1.2M144 367.5h1.2M88 375h1.2M173.5 344h1.2M135 358h1.2M70 371.5h1.2M144.5 341.5h1.2M146 345.5h1.2M70.5 352h1.2M119 342h1.2M95 344.5h1.2M114 344.5h1.2M113.5 363.5h1.2M119.5 372.5h1.2M56.5 378h1.2M137.5 378.5h1.2M69 370h1.2M103.5 363h1.2M111 370.5h1.2M122.5 357.5h1.2M173.5 347h1.2M56 373.5h1.2M150 353.5h1.2M129.5 357.5h1.2M118.5 367h1.2M129 378h1.2M77.5 371h1.2M163.5 345h1.2M122.5 361.5h1.2M101.5 354.5h1.2M164.5 364.5h1.2M126 368.5h1.2M179.5 340.5h1.2M102.5 362h1.2M99 359.5h1.2M91 360.5h1.2M138.5 355h1.2M144.5 352.5h1.2M99 369h1.2M108.5 356.5h1.2M127.5 379h1.2M132 352.5h1.2M97 347.5h1.2M127 371.5h1.2M56.5 351.5h1.2M84.5 343.5h1.2M68.5 372h1.2M88.5 354.5h1.2M82.5 362.5h1.2M61 378h1.2M65.5 371h1.2M76 380h1.2M76.5 344.5h1.2M96.5 368.5h1.2M72.5 363.5h1.2M80.5 381h1.2M77.5 367h1.2M91.5 347.5h1.2M72 360.5h1.2M66.5 353.5h1.2M63 359.5h1.2M68 373h1.2M76.5 361.5h1.2M82.5 379.5h1.2M60.5 371.5h1.2M71.5 376.5h1.2M58 354h1.2M73.5 363.5h1.2M77 370.5h1.2M82.5 350.5h1.2M71 373h1.2M63 355.5h1.2M59.5 381h1.2M57.5 376.5h1.2M76.5 364h1.2M85 382h1.2M77 378h1.2M85 375h1.2M69.5 363h1.2M81.5 370h1.2M70 380h1.2M77.5 353.5h1.2M70 361.5h1.2M86 374.5h1.2M73.5 365.5h1.2M81 377h1.2M79 375h1.2M75 361h1.2M61 374.5h1.2M65 373.5h1.2M76.5 364.5h1.2M68.5 373h1.2M81.5 364.5h1.2M77 354h1.2M83 379.5h1.2M75.5 378.5h1.2M87 365.5h1.2M63 370.5h1.2M78.5 371.5h1.2M72 351.5h1.2M72 370.5h1.2M76.5 357.5h1.2M58 349.5h1.2M56.5 369.5h1.2M68.5 358h1.2M81 370.5h1.2M68 362.5h1.2M64 364h1.2M65 353h1.2M86.5 362.5h1.2M71 354h1.2M92.5 368h1.2M59 377h1.2M77 362h1.2M64.5 358h1.2M61 379.5h1.2M90.5 353h1.2M74 374h1.2M75 349.5h1.2M69 367h1.2M64.5 367h1.2M71.5 363h1.2M72.5 380.5h1.2M96.5 353.5h1.2M92.5 363.5h1.2M78 367.5h1.2M62 365.5h1.2M73.5 363h1.2M67 354.5h1.2M84 359h1.2M72.5 367h1.2M66.5 378h1.2M69.5 367h1.2M80 352h1.2M67 366h1.2M86.5 369.5h1.2M97.5 367.5h1.2M82 360.5h1.2M76.5 370.5h1.2M70 359.5h1.2M73.5 358.5h1.2M72.5 363h1.2M64 371h1.2M86.5 352h1.2M77.5 349h1.2M75.5 359.5h1.2M86 365h1.2M70.5 369h1.2M81 348.5h1.2M74 374h1.2M63 382h1.2M59.5 367.5h1.2M69.5 370.5h1.2M92.5 374.5h1.2M68.5 347.5h1.2M60.5 357h1.2M69 364.5h1.2M66 372.5h1.2M71 362.5h1.2M85.5 362h1.2M72 381h1.2M90.5 361h1.2M65.5 361h1.2M69.5 373h1.2M69.5 363h1.2M85.5 360.5h1.2M80.5 368.5h1.2M80 364h1.2M73 373h1.2M73 370.5h1.2M72.5 378.5h1.2M74 367.5h1.2M68.5 358.5h1.2M76.5 369.5h1.2M79.5 376.5h1.2M65.5 371h1.2M57.5 367h1.2M60.5 358.5h1.2M79.5 362h1.2M71.5 373.5h1.2M80 367h1.2M79 361h1.2M82.5 361.5h1.2M87.5 376.5h1.2M84 373.5h1.2M74.5 367h1.2M83.5 371h1.2M84 373.5h1.2M97.5 371h1.2M69 367h1.2M57 369.5h1.2M71.5 376h1.2M58.5 368.5h1.2M71 368h1.2M67.5 357h1.2M58 380h1.2M72.5 350h1.2M96 356.5h1.2M66.5 367h1.2M59.5 370h1.2M62 376.5h1.2M80 362h1.2M87.5 359h1.2M68 371.5h1.2M69 350h1.2M99.5 370.5h1.2M75.5 366h1.2M66.5 352.5h1.2M79.5 358.5h1.2M74 371h1.2M58.5 371h1.2M66.5 368.5h1.2M58 373.5h1.2M70.5 356.5h1.2M68 379h1.2M64 375h1.2M78.5 374h1.2M84 369h1.2M83.5 364h1.2M65.5 367.5h1.2M97 366h1.2M82.5 356.5h1.2M97.5 356.5h1.2M73 368h1.2M62 358.5h1.2M63 349.5h1.2M76 355.5h1.2M78 357.5h1.2M76.5 370.5h1.2M71.5 375h1.2M72 361h1.2M77 371h1.2M75.5 363.5h1.2M74.5 368.5h1.2M85 370.5h1.2M58.5 371.5h1.2M74 363.5h1.2M70.5 366.5h1.2M74 356.5h1.2M85 364.5h1.2M62 369h1.2M79 368.5h1.2M70.5 378h1.2M75 367h1.2M68.5 371h1.2M68.5 367.5h1.2M76 375h1.2M61 360.5h1.2M73 365.5h1.2M70.5 370.5h1.2M66.5 370h1.2M66.5 362h1.2M67.5 378h1.2M74.5 368.5h1.2M69 367.5h1.2M80 371h1.2M69.5 362.5h1.2M78 367.5h1.2M70.5 366h1.2M79 373.5h1.2M65 370.5h1.2M72.5 372h1.2M66.5 368.5h1.2M65 367.5h1.2M70 371.5h1.2M69.5 377h1.2M56 374.5h1.2M73.5 367h1.2M63 373h1.2M61 362.5h1.2M79 367.5h1.2M73 363h1.2M65.5 367.5h1.2M73.5 373.5h1.2M62 365.5h1.2M74 369.5h1.2M64.5 365.5h1.2M76 369h1.2M76 369.5h1.2M60.5 377.5h1.2M71 368.5h1.2M75.5 373h1.2M80 356h1.2M62 365h1.2M66 370.5h1.2M63.5 373h1.2M62 367h1.2M80.5 374h1.2M80.5 359.5h1.2M76 370.5h1.2M77.5 368h1.2M65.5 365h1.2M63 362h1.2M63 359h1.2M89.5 374h1.2M77 376h1.2M56.5 380.5h1.2M65 379h1.2M56 374.5h1.2M84.5 375h1.2M65 363.5h1.2M67 352h1.2M88.5 380.5h1.2M68 371.5h1.2M69 354.5h1.2M57.5 361h1.2M79 369h1.2M68.5 352h1.2M83.5 355.5h1.2M87 355.5h1.2M64 356.5h1.2M89.5 374h1.2M83.5 358.5h1.2M66 366.5h1.2M72 370.5h1.2M74.5 369h1.2M78.5 360.5h1.2M83.5 355.5h1.2M73.5 370h1.2M60.5 373h1.2M88.5 381h1.2M64.5 374h1.2M87 365.5h1.2M72.5 354h1.2M57.5 354.5h1.2M83 380.5h1.2M84.5 355.5h1.2M80 355.5h1.2M65 360h1.2M83 367h1.2M81 352.5h1.2M58.5 352.5h1.2M76.5 371h1.2M57 363.5h1.2M68 372h1.2M80.5 352h1.2M87.5 374.5h1.2M88.5 366.5h1.2M67 378.5h1.2M81.5 356h1.2M60 361h1.2M73 363.5h1.2M57 381.5h1.2M65 376.5h1.2M80 366.5h1.2M68.5 372h1.2M65.5 367h1.2M59 360.5h1.2M78 354h1.2M89 373h1.2M57.5 365.5h1.2M63 367.5h1.2M88 358.5h1.2M66 365.5h1.2M82 374h1.2M86.5 374.5h1.2M72.5 379.5h1.2M78 354.5h1.2M75 360h1.2M78.5 353h1.2M63 371h1.2M78 353h1.2M80.5 353h1.2M90 355.5h1.2M63 380h1.2M63.5 364h1.2M73 354h1.2M75 380h1.2M70 372.5h1.2M69 370h1.2M68 379h1.2M75.5 376.5h1.2M62 375h1.2M90 374.5h1.2M75.5 374h1.2M84 356h1.2M62.5 360h1.2M63 361h1.2M72.5 362h1.2M73 380.5h1.2M67.5 352.5h1.2M58.5 377h1.2M74 368.5h1.2M72 374.5h1.2M88 370.5h1.2M90 370h1.2M80.5 372h1.2M78 357.5h1.2M63 365.5h1.2M69 365h1.2M68 352.5h1.2M56 360h1.2M58.5 376h1.2M86.5 350.5h1.2M66 352h1.2M85 352.5h1.2M66 353.5h1.2M67 349h1.2M82.5 349.5h1.2M94 354h1.2M75.5 346h1.2M59 346.5h1.2M60.5 348h1.2M67 347.5h1.2M74 348h1.2M70 351.5h1.2M76 347h1.2M85.5 353h1.2M77 346.5h1.2M77 352.5h1.2M63.5 346.5h1.2M57 347.5h1.2M65.5 350h1.2M67.5 346.5h1.2M94.5 350.5h1.2M59 350h1.2M126 364.5h1.2M112 362.5h1.2M118.5 369h1.2M113.5 360h1.2M106 358h1.2M139.5 354h1.2M100 342.5h1.2M96.5 355h1.2M133.5 366.5h1.2M95.5 358.5h1.2M134.5 363.5h1.2M94 360.5h1.2M118.5 358h1.2M132.5 364.5h1.2M85.5 353h1.2M99.5 363.5h1.2M108.5 361h1.2M109.5 361h1.2M124 363.5h1.2M111.5 362.5h1.2M98 358.5h1.2M88.5 364h1.2M113.5 361.5h1.2M103.5 351.5h1.2M91 342.5h1.2M116 352.5h1.2M105 361h1.2M110.5 339h1.2M92 364.5h1.2M105.5 361.5h1.2M127 338.5h1.2M92 363h1.2M119.5 356.5h1.2M111 357.5h1.2M108.5 357h1.2M118.5 365h1.2M91.5 352.5h1.2M88 352h1.2M99 369.5h1.2M68.5 337h1.2M103 343h1.2M113.5 352h1.2M109.5 345.5h1.2M117.5 367h1.2M103.5 347.5h1.2M100.5 364.5h1.2M151.5 357h1.2M84 359h1.2M143.5 354h1.2M107.5 352h1.2M140 341h1.2M128.5 347.5h1.2M100.5 341h1.2M63 368.5h1.2M86 351.5h1.2M120.5 363h1.2M106 359.5h1.2M92.5 375.5h1.2M128 365.5h1.2M105 345.5h1.2M129 373h1.2M105.5 355h1.2M85.5 355h1.2M109 352.5h1.2M117 363h1.2M83 349.5h1.2M87 367.5h1.2M109 370h1.2M134.5 364.5h1.2M107 365h1.2M109 351.5h1.2M131 356h1.2M111 359h1.2M131 349h1.2M104 351.5h1.2M105 353.5h1.2M87 357.5h1.2M127 359h1.2M83.5 357.5h1.2M84.5 353h1.2M97 365.5h1.2M89.5 361.5h1.2M77 356.5h1.2M101 355h1.2M140 362h1.2M121 357h1.2M84.5 363.5h1.2M76 374.5h1.2M128 341h1.2M136.5 357h1.2M81.5 355h1.2M120 363.5h1.2M119 364h1.2M107 370.5h1.2M120.5 360.5h1.2M81.5 366h1.2M102.5 353h1.2M116.5 366h1.2M113.5 361h1.2M139 364h1.2M94 350h1.2M132 362h1.2M116 354h1.2M78.5 365h1.2M123.5 370.5h1.2M102 348h1.2M66.5 358.5h1.2M126 352h1.2M70 348h1.2M100.5 340.5h1.2M75 379h1.2M97 359.5h1.2M134.5 368h1.2M79.5 356.5h1.2M120 347h1.2M72 368.5h1.2M97 360.5h1.2M146.5 351h1.2M166.5 355h1.2M150 349.5h1.2M161 361h1.2M159.5 359h1.2M160.5 365h1.2M145.5 356.5h1.2M167.5 359h1.2M146.5 361h1.2M162.5 361.5h1.2M148.5 375.5h1.2M143 353.5h1.2M159.5 339.5h1.2M161.5 347h1.2M160 352h1.2M149 350h1.2M124.5 357.5h1.2M146 365.5h1.2M168.5 349h1.2M136.5 364.5h1.2M143.5 343.5h1.2M120.5 343h1.2M128.5 352h1.2M124.5 348.5h1.2M135 349h1.2M108 363.5h1.2M134 347.5h1.2M132.5 363h1.2M145 360.5h1.2M143 346h1.2M176 346.5h1.2M169.5 335.5h1.2M159.5 358h1.2M124.5 360h1.2M135 368h1.2M143.5 353.5h1.2M162 362.5h1.2M141.5 347.5h1.2M143 350.5h1.2M178.5 366h1.2M155 358h1.2M135.5 365.5h1.2M168.5 357h1.2M137 357h1.2M138.5 365.5h1.2M129.5 345h1.2M150 358.5h1.2M96.5 356h1.2M160 364h1.2M157 355.5h1.2M156.5 358.5h1.2M157.5 353.5h1.2M152 342h1.2M128 358h1.2M168.5 362.5h1.2M172 356h1.2M125 375.5h1.2M142 345.5h1.2M155.5 304h1.2M165 325h1.2M157 313h1.2M163.5 312.5h1.2M162.5 338h1.2M160 316h1.2M154.5 315.5h1.2M176 321h1.2M161.5 306h1.2M161.5 303h1.2M166.5 308h1.2M166 307h1.2M175 300.5h1.2M167.5 317.5h1.2M162 330h1.2M155 308.5h1.2M159 303.5h1.2M157 318h1.2M162 334.5h1.2M140 304.5h1.2M153 307h1.2M163 323h1.2M161.5 323h1.2M161.5 316h1.2M158 306.5h1.2M169 294h1.2M163.5 317.5h1.2M159.5 307.5h1.2M159 301.5h1.2M167 305h1.2M161.5 297.5h1.2M152 297h1.2M161.5 304h1.2M166 320h1.2M158.5 333h1.2M172.5 314h1.2M167.5 337h1.2M166.5 310.5h1.2M163 306h1.2M160.5 323.5h1.2M153.5 295.5h1.2M173 324h1.2M151 306.5h1.2M178 317.5h1.2M160 312.5h1.2M159 314h1.2M158.5 305.5h1.2M159 305.5h1.2M148 310h1.2M172 326h1.2M158.5 323.5h1.2M158 299.5h1.2M165 340h1.2M156.5 311.5h1.2M162 323.5h1.2M171 328.5h1.2M178.5 340.5h1.2M163.5 302h1.2M166.5 312h1.2M168 320h1.2M159 338.5h1.2M155 324.5h1.2M163 334h1.2M163.5 343.5h1.2M165 329h1.2M165 315h1.2M160.5 299.5h1.2M161.5 310h1.2M168 324h1.2M166.5 319h1.2M150.5 300.5h1.2M165.5 311.5h1.2M164.5 312.5h1.2M166.5 321.5h1.2M164 308h1.2M158.5 317.5h1.2M166.5 322h1.2M156.5 299h1.2M155 304h1.2M166 298.5h1.2M165 312h1.2M164 328.5h1.2M163 308.5h1.2M155.5 305h1.2M176 314h1.2M164 314h1.2M174.5 299h1.2M177 305.5h1.2M164.5 321.5h1.2M158.5 313.5h1.2M155.5 316.5h1.2M158 337h1.2M157 305.5h1.2M168 319h1.2M171.5 287h1.2M158 311h1.2M159.5 304.5h1.2M170.5 293h1.2M157 308.5h1.2M163.5 309h1.2M164 312h1.2M155 316h1.2M148 303h1.2M171 311h1.2M156 313h1.2M157 321h1.2M154 304h1.2M159.5 310.5h1.2M168.5 313.5h1.2M158.5 323.5h1.2M155 302.5h1.2M164 333.5h1.2M158 312h1.2M165.5 286.5h1.2M160.5 312h1.2M161 317.5h1.2M164 309h1.2M160 307h1.2M159 285.5h1.2M159.5 314.5h1.2M156 312h1.2M163 309.5h1.2M171 293.5h1.2M159 312h1.2M164 301.5h1.2M164.5 326h1.2M154 326h1.2M160 309.5h1.2M166 309h1.2M160.5 314.5h1.2M163.5 323.5h1.2M153.5 312h1.2M152.5 301.5h1.2M158.5 294.5h1.2M167.5 315.5h1.2M161.5 324h1.2M159.5 303.5h1.2M162.5 296.5h1.2M161.5 308.5h1.2M153.5 322.5h1.2M157 307h1.2M141.5 325.5h1.2M160 314.5h1.2M159.5 310h1.2M153.5 329h1.2M141 318.5h1.2M150.5 293h1.2M160 326h1.2M154.5 303h1.2M166.5 319.5h1.2M166 316.5h1.2M167.5 310.5h1.2M145.5 317.5h1.2M154.5 315h1.2M146 325.5h1.2M177 332.5h1.2M162 297.5h1.2M171 313.5h1.2M165.5 306h1.2M141 307.5h1.2M151.5 314.5h1.2M152 342.5h1.2M153 319h1.2M176 327h1.2M157.5 310h1.2M156.5 310.5h1.2M147.5 324.5h1.2M151.5 324h1.2M154.5 316.5h1.2M147.5 313.5h1.2M129 345.5h1.2M176.5 317h1.2M165 304h1.2M142.5 293h1.2M151 314h1.2M148 309h1.2M171 316h1.2M159 294.5h1.2M160 331.5h1.2M164.5 325h1.2M168.5 321h1.2M166.5 309h1.2M161 313.5h1.2M161 320h1.2M156.5 306h1.2M156.5 344h1.2M162.5 329.5h1.2M170 319h1.2M139.5 308h1.2M160.5 317.5h1.2M146.5 291.5h1.2M171 318.5h1.2M153 305h1.2M143.5 301h1.2M150 319h1.2M153.5 308h1.2M173.5 291h1.2M161.5 322.5h1.2M143 345h1.2M157.5 317.5h1.2M147.5 311h1.2M150 317.5h1.2M154.5 291h1.2M149.5 308h1.2M149.5 301.5h1.2M169.5 305.5h1.2M148.5 314h1.2M159 313h1.2M146 296h1.2M159.5 296h1.2M150 329.5h1.2M143 314h1.2M144.5 322.5h1.2M160.5 323h1.2M137 323h1.2M171 294.5h1.2M150 319.5h1.2M154 308.5h1.2M129.5 309h1.2M145.5 321.5h1.2M171 297h1.2M138.5 315.5h1.2M153.5 289.5h1.2M151 296h1.2M150.5 308.5h1.2M151.5 322h1.2M159 293h1.2M169.5 333h1.2M154.5 346.5h1.2M164 302.5h1.2M161 298.5h1.2M169.5 326h1.2M156.5 303.5h1.2M155.5 330.5h1.2M162 315.5h1.2M168 309.5h1.2M165.5 308.5h1.2M155.5 313h1.2M167.5 303h1.2M150.5 302h1.2M169 325h1.2M151.5 294.5h1.2M163 312h1.2M153 300h1.2M160.5 320.5h1.2M139.5 326h1.2M155.5 304.5h1.2M162.5 311.5h1.2M152 293.5h1.2M146.5 306.5h1.2M161.5 316h1.2M165.5 310h1.2M168.5 330.5h1.2M142.5 312h1.2M168 306h1.2M162 296.5h1.2M158.5 324.5h1.2M179 306h1.2M141.5 294.5h1.2M160.5 305.5h1.2M151 306.5h1.2M155 309h1.2M172.5 316.5h1.2M162 308.5h1.2M168.5 319.5h1.2M175 293.5h1.2M167.5 310.5h1.2M152 305h1.2M131 314h1.2M130 330.5h1.2M118.5 321h1.2M141.5 326.5h1.2M103.5 326.5h1.2M111.5 303h1.2M112 309h1.2M143 308h1.2M121.5 299.5h1.2M98.5 329.5h1.2M110 302h1.2M109.5 303h1.2M99 306.5h1.2M107.5 317.5h1.2M103.5 311h1.2M97.5 334.5h1.2M106.5 320.5h1.2M117 330.5h1.2M127 334h1.2M123.5 324h1.2M121.5 319h1.2M109.5 340h1.2M128.5 305.5h1.2M113.5 321.5h1.2M121 332h1.2M132 311.5h1.2M131.5 325.5h1.2M123.5 340.5h1.2M115 284.5h1.2M124.5 329h1.2M132 314.5h1.2M112.5 326.5h1.2M101 319h1.2" fill="none" stroke="#444" stroke-width="1.2" opacity="0.85"/>
<path d="M55.5 302.5h1.2M55.5 275.5h1.2M55.5 255.5h1.2M55.5 321.5h1.2M55.5 265.5h1.2M55.5 274.5h1.2M55.5 272.5h1.2M94.5 348h1.2M124.5 334h1.2M95 321h1.2M60 317.5h1.2M79 330.5h1.2M78 349h1.2M86 343h1.2M77 345.5h1.2M82 338h1.2M68 332.5h1.2M59.5 333.5h1.2M96 336h1.2M84 350h1.2M76 329.5h1.2M109 338.5h1.2M95 319.5h1.2M86.5 337.5h1.2M136 318h1.2M58.5 340.5h1.2M86.5 325.5h1.2M116 324h1.2M136.5 326.5h1.2M114 346.5h1.2M108 322h1.2M59 347h1.2M74.5 347h1.2M85.5 324h1.2M85.5 319h1.2M134 345.5h1.2M97.5 348h1.2M95.5 334h1.2M101 348.5h1.2M102.5 330.5h1.2M86.5 320h1.2M67.5 337.5h1.2M56.5 318.5h1.2M63 293.5h1.2M116 340h1.2M68 349h1.2M82 305.5h1.2M115 320h1.2M82.5 348.5h1.2M59 330h1.2M104.5 313.5h1.2M82.5 322.5h1.2M86 329.5h1.2M57.5 284.5h1.2M71 341h1.2M134 340.5h1.2M116 319h1.2M109 338.5h1.2M98.5 313.5h1.2M71 342h1.2M60.5 369h1.2M133 340h1.2M157 376h1.2M180 360.5h1.2M89.5 374.5h1.2M146 364.5h1.2M165 369.5h1.2M166 342h1.2M175.5 366h1.2M63.5 379.5h1.2M173 343.5h1.2M99 348h1.2M63 341h1.2M102 371.5h1.2M110 372.5h1.2M94 356h1.2M105 352.5h1.2M95 346h1.2M126 381.5h1.2M106.5 355h1.2M109 360.5h1.2M155.5 377h1.2M138 361.5h1.2M79.5 366h1.2M78.5 372h1.2M90.5 367h1.2M68.5 347h1.2M60 366h1.2M64 348h1.2M129 345h1.2M178.5 381.5h1.2M125.5 356.5h1.2M142 344.5h1.2M76 370.5h1.2M173 376h1.2M110 371h1.2M119.5 348h1.2M86.5 350h1.2M66.5 369.5h1.2M94 347.5h1.2M150 340h1.2M129.5 359.5h1.2M98 359h1.2M146 346h1.2M85 359h1.2M130.5 344.5h1.2M137.5 380h1.2M149.5 342h1.2M65.5 365.5h1.2M102 363.5h1.2M169.5 372h1.2M171 372.5h1.2M95 353h1.2M107.5 348.5h1.2M134 343.5h1.2M67 358h1.2M90.5 379h1.2M76.5 356.5h1.2M69.5 358.5h1.2M76 381h1.2M90.5 373.5h1.2M67 370h1.2M86 356.5h1.2M83 368h1.2M84 360h1.2M84.5 365.5h1.2M56.5 377h1.2M75 357h1.2M61 366h1.2M90 360h1.2M65.5 375.5h1.2M61 381h1.2M58 380h1.2M83.5 368.5h1.2M72 377.5h1.2M84.5 368.5h1.2M81 353h1.2M74.5 360.5h1.2M85 365.5h1.2M63 356h1.2M60.5 369h1.2M73 367.5h1.2M88.5 353.5h1.2M56.5 357h1.2M59 363h1.2M83 365h1.2M88 361.5h1.2M59.5 367.5h1.2M65 354h1.2M56 373.5h1.2M65 374h1.2M64.5 375.5h1.2M76 373.5h1.2M85.5 351.5h1.2M91.5 346.5h1.2M80 349h1.2M63 354h1.2M68.5 347h1.2M60.5 349h1.2M61 351.5h1.2M71 354h1.2M62.5 348.5h1.2M86.5 350h1.2M79 352h1.2M76.5 348h1.2M64 350h1.2M83.5 346.5h1.2M83 350h1.2M82 346.5h1.2M85 346.5h1.2M83 346h1.2M92 351h1.2M90.5 349.5h1.2M81.5 352h1.2M92.5 348h1.2M80.5 352h1.2M83.5 353.5h1.2M87 352.5h1.2M62.5 346.5h1.2M114 361h1.2M108.5 364h1.2M122.5 362.5h1.2M115 357.5h1.2M127 358.5h1.2M103.5 353.5h1.2M152 351.5h1.2M83 370.5h1.2M107 353.5h1.2M111.5 340h1.2M111 357.5h1.2M125.5 358.5h1.2M128 365.5h1.2M111 351h1.2M109.5 371h1.2M101 366.5h1.2M83.5 341.5h1.2M98.5 359h1.2M127 350h1.2M104.5 351h1.2M137.5 376.5h1.2M93 358.5h1.2M82 364h1.2M103 365.5h1.2M105 364.5h1.2M108.5 355h1.2M106 361.5h1.2M149 348.5h1.2M99.5 358.5h1.2M109.5 349h1.2M127.5 351.5h1.2M103 367.5h1.2M99 354.5h1.2M108.5 360.5h1.2M127 345h1.2M111 361h1.2M84.5 354.5h1.2M99 350.5h1.2M106 357.5h1.2M96.5 352h1.2M111.5 360h1.2M127 351.5h1.2M110.5 345.5h1.2M102 358h1.2M119.5 353h1.2M114 352.5h1.2M116.5 360h1.2M106 345h1.2M111.5 354.5h1.2M160.5 352.5h1.2M120 351h1.2M138 364.5h1.2M149.5 360.5h1.2M91.5 355.5h1.2M98.5 358h1.2M116.5 368.5h1.2M83 366.5h1.2M72.5 360h1.2M76.5 356h1.2M113.5 364.5h1.2M88 363.5h1.2M129 348h1.2M105 344.5h1.2M131.5 361h1.2M81 359h1.2M132.5 347h1.2M80 362.5h1.2M96.5 359h1.2M124.5 360.5h1.2M115 356h1.2M105 361h1.2M95 369h1.2M133.5 348h1.2M91 356.5h1.2M119 349h1.2M97.5 371h1.2M103 350.5h1.2M98.5 350.5h1.2M96.5 361.5h1.2M98.5 366h1.2M123.5 365h1.2M121 367.5h1.2M101.5 369h1.2M114 361.5h1.2M112 360h1.2M88 345.5h1.2M100 346.5h1.2M63 355h1.2M117 357.5h1.2M120 349h1.2M117 359.5h1.2M145 362h1.2M99.5 362h1.2M139.5 357.5h1.2M93.5 366h1.2M110.5 367h1.2M95 350h1.2M122 359h1.2M108.5 365h1.2M131.5 356h1.2M94 353h1.2M68 365.5h1.2M108.5 360h1.2M102 350.5h1.2M100 363h1.2M105.5 367.5h1.2M99 360h1.2M123.5 354.5h1.2M81 341.5h1.2M81 368.5h1.2M137 369h1.2M78 350h1.2M97 371h1.2M88 358h1.2M121.5 372.5h1.2M100.5 364h1.2M118 359.5h1.2M101.5 370h1.2M101.5 361h1.2M100 363.5h1.2M129 357.5h1.2M135 349.5h1.2M93 361h1.2M107 363h1.2M75 354h1.2M103.5 357.5h1.2M146 361h1.2M148 346.5h1.2M153 347h1.2M162 359.5h1.2M156 354h1.2M159 354.5h1.2M147.5 365h1.2M156 361h1.2M156 359h1.2M119 348.5h1.2M107 362h1.2M125.5 358h1.2M165 369.5h1.2M140 349h1.2M156.5 358h1.2M183 360h1.2M109.5 348h1.2M161 354h1.2M161.5 351.5h1.2M174 369h1.2M140.5 338h1.2M146 372h1.2M124 361h1.2M154 372.5h1.2M144.5 353h1.2M138.5 347.5h1.2M170.5 354h1.2M134.5 353h1.2M122.5 372.5h1.2M161.5 364.5h1.2M131 368h1.2M159 352.5h1.2M163 354.5h1.2M162 357.5h1.2M155.5 366.5h1.2M125.5 355.5h1.2M149 371h1.2M154 351.5h1.2M143 357.5h1.2M134 361.5h1.2M174 366.5h1.2M152 371.5h1.2M140.5 364h1.2M182 362.5h1.2M168.5 375.5h1.2M154 362.5h1.2M157.5 360.5h1.2M143 364.5h1.2M150 355.5h1.2M152 358.5h1.2M125 347h1.2M140 352.5h1.2M137 372.5h1.2M146.5 366.5h1.2M126 351h1.2M181.5 354.5h1.2M158.5 355h1.2M151.5 363.5h1.2M112.5 357h1.2M133 370.5h1.2M153 369.5h1.2M145.5 357h1.2M134.5 338h1.2M151.5 355h1.2M162 345.5h1.2M154 364.5h1.2M164.5 347.5h1.2M146 349h1.2M181 349h1.2M143 355h1.2M154 356h1.2M158 348.5h1.2M139.5 363.5h1.2M184.5 364h1.2M159.5 374.5h1.2M134.5 338h1.2M150.5 329.5h1.2M171.5 287h1.2M139.5 294h1.2M160 319h1.2M161.5 324.5h1.2M167.5 309.5h1.2M134 280h1.2M151.5 320.5h1.2M148.5 314h1.2M149.5 318.5h1.2M173 308h1.2M167 307.5h1.2M165 302.5h1.2M137 314.5h1.2M158 321h1.2M169.5 311.5h1.2M176 317h1.2M157.5 281h1.2M159 311.5h1.2M134 333h1.2M163 319.5h1.2M155 328h1.2M165 333.5h1.2M169 328.5h1.2M158.5 323h1.2M153.5 310h1.2M150.5 325h1.2M151 317.5h1.2M152 332h1.2M157 298h1.2M150 350.5h1.2M135.5 318.5h1.2M177 287.5h1.2M154 311.5h1.2M157.5 330h1.2M138 331.5h1.2M153 310h1.2M147 309h1.2M168 302.5h1.2M160.5 287h1.2M168 314h1.2M137.5 290.5h1.2M131 326h1.2M155.5 308.5h1.2M146 335h1.2M167 284h1.2M150 332.5h1.2M183 316h1.2M159 293.5h1.2M140.5 318h1.2M149 337h1.2M155.5 302.5h1.2M153.5 315.5h1.2M156 306.5h1.2M155 329.5h1.2M142 291.5h1.2M148 300.5h1.2M140.5 302h1.2M156.5 326h1.2M122 307.5h1.2M131.5 337.5h1.2M133.5 310.5h1.2M141 336h1.2M109.5 328.5h1.2M116.5 323h1.2M117 309.5h1.2M150 324.5h1.2M127.5 329h1.2M116.5 314.5h1.2M133 314.5h1.2M113.5 303.5h1.2M120 315h1.2M136.5 313h1.2M106.5 317.5h1.2M104 314h1.2M103.5 317.5h1.2M127 314.5h1.2M129 339.5h1.2M102 305.5h1.2M101 318.5h1.2M107 337h1.2M125 312.5h1.2M99.5 314h1.2M131.5 311h1.2M133 300.5h1.2M114.5 286.5h1.2M97 322.5h1.2M100.5 312.5h1.2M118 302h1.2M126 337h1.2M118 319h1.2M106.5 323h1.2" fill="none" stroke="#777" stroke-width="1.2" opacity="0.85"/>
<path d="M55.5 282.5h1.2M55.5 300h1.2M55.5 318h1.2M55.5 288h1.2M55.5 261.5h1.2M55.5 335.5h1.2M55.5 283.5h1.2M55.5 262.5h1.2M57 341.5h1.2M67.5 347h1.2M65 324h1.2M108 344h1.2M112 340h1.2M108 349.5h1.2M117.5 344.5h1.2M80 337h1.2M94 348.5h1.2M70 330.5h1.2M104.5 326h1.2M105.5 341.5h1.2M57.5 345h1.2M81 306h1.2M56 329.5h1.2M78 328h1.2M61.5 308.5h1.2M132.5 350h1.2M59.5 329.5h1.2M120 348h1.2M75.5 323.5h1.2M129 334h1.2M111.5 349.5h1.2M64 303h1.2M130 323h1.2M109.5 342h1.2M127 335.5h1.2M137.5 298h1.2M136.5 337h1.2M61.5 347h1.2M119.5 327.5h1.2M113 318h1.2M107 337h1.2M60.5 338h1.2M98.5 342h1.2M63.5 339h1.2M100 333h1.2M129.5 341.5h1.2M65 311h1.2M97.5 309.5h1.2M139.5 343h1.2M115.5 331.5h1.2M82.5 316.5h1.2M87.5 348h1.2M120 337h1.2M121 318h1.2M85 326h1.2M88 336h1.2M95 345.5h1.2M94.5 316h1.2M87 349.5h1.2M64 312h1.2M77.5 314h1.2M105.5 320h1.2M88.5 335h1.2M57.5 333.5h1.2M70 342h1.2M138 330.5h1.2M165.5 376h1.2M67.5 357h1.2M116 350h1.2M61.5 345h1.2M75 363.5h1.2M77 374h1.2M160.5 378h1.2M85 357.5h1.2M88.5 361.5h1.2M122.5 376.5h1.2M152 352h1.2M135 363.5h1.2M82 369.5h1.2M172 352.5h1.2M64.5 376h1.2M141.5 361.5h1.2M162.5 361.5h1.2M109.5 344.5h1.2M155.5 364.5h1.2M135 355.5h1.2M158 375h1.2M180.5 348.5h1.2M62 363.5h1.2M163.5 370h1.2M181.5 360h1.2M162.5 381h1.2M82.5 377h1.2M119.5 359.5h1.2M106 342.5h1.2M131.5 379.5h1.2M96.5 377h1.2M95 365h1.2M183.5 343h1.2M143.5 364h1.2M96 376h1.2M56.5 376.5h1.2M128 356h1.2M76.5 354.5h1.2M85 345h1.2M92.5 356.5h1.2M172.5 341h1.2M129 349.5h1.2M149 350.5h1.2M101 379.5h1.2M177 368.5h1.2M145 360h1.2M144 346.5h1.2M116.5 380.5h1.2M90 366.5h1.2M61 363.5h1.2M173.5 379h1.2M145.5 347h1.2M167 372.5h1.2M174 376h1.2M166 349h1.2M104 364h1.2M102.5 350h1.2M80 367.5h1.2M174 363.5h1.2M69 374.5h1.2M104.5 365.5h1.2M147 379.5h1.2M94.5 369.5h1.2M89 348h1.2M58.5 381h1.2M128 352h1.2M185.5 360h1.2M83 374h1.2M96.5 354h1.2M99 341h1.2M150.5 346h1.2M101.5 363h1.2M56.5 376h1.2M184.5 355h1.2M149.5 378h1.2M81 365.5h1.2M70.5 374.5h1.2M76 364h1.2M86 354.5h1.2M63.5 361h1.2M71.5 355.5h1.2M56.5 355h1.2M83 359h1.2M82.5 358.5h1.2M90 365h1.2M74 353h1.2M78.5 370h1.2M89.5 364h1.2M67.5 359h1.2M68 380.5h1.2M72 363h1.2M78 357.5h1.2M66.5 369h1.2M79.5 357.5h1.2M88.5 377h1.2M71 379.5h1.2M57.5 372.5h1.2M75 374.5h1.2M91 352.5h1.2M65.5 364.5h1.2M86.5 360.5h1.2M75 363.5h1.2M77.5 373h1.2M68.5 366.5h1.2M79.5 376.5h1.2M74.5 378h1.2M66.5 374h1.2M91 356.5h1.2M64.5 353h1.2M82 346.5h1.2M90.5 350.5h1.2M81 348.5h1.2M85 348.5h1.2M87.5 349.5h1.2M76 352.5h1.2M62 351h1.2M72 349h1.2M85.5 349.5h1.2M82 350h1.2M91 348h1.2M70 350h1.2M91.5 351.5h1.2M76.5 346.5h1.2M77.5 346h1.2M96.5 354.5h1.2M100.5 356.5h1.2M94.5 355h1.2M128.5 339.5h1.2M116.5 340h1.2M99 343.5h1.2M118.5 373h1.2M96.5 352.5h1.2M144.5 368h1.2M114 349h1.2M148 355.5h1.2M108.5 359.5h1.2M125.5 354.5h1.2M110 355.5h1.2M97.5 360.5h1.2M147.5 365.5h1.2M119 358.5h1.2M89 361.5h1.2M129 356h1.2M137.5 351h1.2M122 368h1.2M87.5 365h1.2M104.5 363h1.2M105.5 356.5h1.2M88.5 361h1.2M117 358h1.2M106.5 356.5h1.2M104.5 362h1.2M111 353h1.2M111 360h1.2M86.5 359.5h1.2M91.5 370h1.2M95 363h1.2M112 365.5h1.2M102 345h1.2M116 344h1.2M81 356h1.2M89 358.5h1.2M121 352.5h1.2M124.5 349h1.2M119.5 356h1.2M134 356h1.2M99.5 362.5h1.2M135 351h1.2M88.5 353h1.2M125 356.5h1.2M104.5 347h1.2M66 371h1.2M114.5 360.5h1.2M102.5 362h1.2M134.5 342h1.2M89 347h1.2M125 360.5h1.2M149 351.5h1.2M99 356.5h1.2M105.5 356.5h1.2M139 357.5h1.2M86.5 364h1.2M123 355.5h1.2M112.5 357h1.2M109.5 359h1.2M125 347h1.2M73 360.5h1.2M93 345h1.2M112.5 356h1.2M132 353.5h1.2M103.5 350h1.2M115.5 359h1.2M115 347.5h1.2M104 353.5h1.2M122 352h1.2M109 345.5h1.2M92.5 343h1.2M93 353.5h1.2M126.5 356.5h1.2M92 353.5h1.2M72 344.5h1.2M120 372h1.2M80.5 363h1.2M143.5 362.5h1.2M98.5 352h1.2M109 365h1.2M92 368h1.2M101 358.5h1.2M114 364h1.2M98 341h1.2M107 370.5h1.2M95 355h1.2M107 342.5h1.2M109.5 358h1.2M101 357h1.2M133 349h1.2M116.5 350h1.2M104.5 354.5h1.2M134 352.5h1.2M96.5 357.5h1.2M72.5 371h1.2M120.5 348.5h1.2M99 360h1.2M96 353.5h1.2M87.5 361h1.2M76.5 359.5h1.2M139.5 358h1.2M101 352h1.2M105 355.5h1.2M90.5 350h1.2M94.5 365.5h1.2M117 365.5h1.2M99 346h1.2M66 352.5h1.2M109 368.5h1.2M121.5 362.5h1.2M101 354h1.2M122.5 355.5h1.2M105.5 351.5h1.2M110.5 359.5h1.2M94.5 356.5h1.2M115.5 350.5h1.2M108.5 354h1.2M102.5 349.5h1.2M93.5 362h1.2M117 366.5h1.2M103.5 353.5h1.2M96 360.5h1.2M97.5 363h1.2M113 363.5h1.2M109.5 349.5h1.2M144 362h1.2M124.5 369.5h1.2M134.5 352.5h1.2M81.5 361h1.2M127.5 351h1.2M78 359.5h1.2M105.5 359h1.2M110 352.5h1.2M89.5 369.5h1.2M81 371.5h1.2M119.5 361h1.2M101 358.5h1.2M132 351.5h1.2M123 356.5h1.2M160.5 338h1.2M130.5 365.5h1.2M134 345h1.2M140 365.5h1.2M142.5 356.5h1.2M122.5 361h1.2M128.5 367h1.2M154.5 361.5h1.2M161.5 360h1.2M142.5 343.5h1.2M133 360h1.2M120 359.5h1.2M168.5 350.5h1.2M127.5 345h1.2M137 342h1.2M150.5 363h1.2M150.5 365.5h1.2M153.5 347.5h1.2M149 351h1.2M143.5 341.5h1.2M136 356.5h1.2M147.5 344.5h1.2M171.5 352h1.2M140 371.5h1.2M116.5 352.5h1.2M152.5 359.5h1.2M151.5 362h1.2M109 330h1.2M165.5 346h1.2M131 352h1.2M161.5 356.5h1.2M140 353.5h1.2M148 352.5h1.2M149 371h1.2M142.5 355h1.2M162 362.5h1.2M118.5 334h1.2M105.5 346h1.2M168.5 346.5h1.2M162.5 345.5h1.2M140 362.5h1.2M156 340h1.2M134.5 355h1.2M110 355.5h1.2M150.5 356.5h1.2M155.5 360.5h1.2M155.5 354.5h1.2M142 350h1.2M170.5 361.5h1.2M145.5 363.5h1.2M142.5 350.5h1.2M155.5 361h1.2M146.5 345.5h1.2M142 357h1.2M166 370h1.2M138 353h1.2M136.5 345.5h1.2M160.5 367.5h1.2M166.5 364h1.2M133.5 349.5h1.2M145 376h1.2M131 366.5h1.2M137 355.5h1.2M143 351h1.2M155 371.5h1.2M154.5 352.5h1.2M141 360h1.2M143.5 359h1.2M142.5 350h1.2M138 350h1.2M149.5 311.5h1.2M163 316.5h1.2M171.5 323.5h1.2M165.5 301h1.2M156 302.5h1.2M135 310h1.2M162 294h1.2M168 321h1.2M165.5 314h1.2M156.5 327h1.2M136.5 301h1.2M130.5 301.5h1.2M155 315h1.2M166 330.5h1.2M154.5 332.5h1.2M180.5 309h1.2M163 327h1.2M133 309.5h1.2M152.5 322h1.2M144.5 328.5h1.2M161.5 315.5h1.2M148 327.5h1.2M160 320.5h1.2M174 313h1.2M162.5 314h1.2M142.5 294.5h1.2M173.5 331h1.2M148.5 318.5h1.2M168 313h1.2M156 337.5h1.2M164 323.5h1.2M139 316.5h1.2M173 312.5h1.2M152.5 328.5h1.2M149.5 310h1.2M150 315h1.2M169.5 318.5h1.2M156.5 358.5h1.2M147 309h1.2M162.5 302h1.2M152.5 293h1.2M161.5 291.5h1.2M152 282h1.2M159.5 345.5h1.2M147.5 347h1.2M164.5 309.5h1.2M160 307h1.2M139 312h1.2M167.5 326.5h1.2M173 320.5h1.2M157 311.5h1.2M139 327h1.2M137 328h1.2M143.5 340h1.2M175 321h1.2M169.5 308h1.2M151 312.5h1.2M142.5 280h1.2M157.5 324.5h1.2M159 296h1.2M170 317h1.2M145 306.5h1.2M167 325.5h1.2M168 334.5h1.2M146.5 317h1.2M172 314.5h1.2M167.5 302.5h1.2M116 328.5h1.2M125 310.5h1.2M142.5 328.5h1.2M125 319.5h1.2M109 317h1.2M112 330.5h1.2M109 294h1.2M111 331h1.2M113 303h1.2M120 323.5h1.2M111 327h1.2M118 318.5h1.2M128.5 306h1.2M138.5 333h1.2M137.5 313.5h1.2M104 319h1.2M111 305h1.2M125.5 299.5h1.2M114.5 327h1.2M118.5 322h1.2M128.5 318h1.2M105 315.5h1.2M133 318.5h1.2M117.5 309.5h1.2M127.5 332.5h1.2M127 297.5h1.2" fill="none" stroke="#999" stroke-width="1.2" opacity="0.85"/>
<path d="M55.5 313h1.2M55.5 298h1.2M55.5 260.5h1.2M55.5 263h1.2M55.5 324h1.2M55.5 276h1.2M55.5 300h1.2M55.5 340.5h1.2M55.5 319h1.2M89 341.5h1.2M90 341h1.2M132.5 324h1.2M138 343h1.2M102 330.5h1.2M91.5 335h1.2M124 343.5h1.2M61 316.5h1.2M87.5 326h1.2M110 331h1.2M99.5 345.5h1.2M62.5 320h1.2M114.5 338h1.2M96 324h1.2M73 321h1.2M123 339.5h1.2M131 349.5h1.2M87.5 338h1.2M138 345h1.2M69 320.5h1.2M69.5 295.5h1.2M110 331.5h1.2M71 332h1.2M99 346h1.2M91 320h1.2M111 332.5h1.2M96 322h1.2M103.5 344h1.2M122 323.5h1.2M105 318h1.2M67.5 346h1.2M63 327.5h1.2M103 328.5h1.2M91.5 313.5h1.2M108.5 338h1.2M80 334h1.2M122.5 337.5h1.2M72 347.5h1.2M107 338.5h1.2M107.5 350h1.2M73.5 308.5h1.2M109 340.5h1.2M114.5 343h1.2M62.5 304h1.2M84 344.5h1.2M87.5 319.5h1.2M78.5 326.5h1.2M122 333.5h1.2M127 298.5h1.2M58.5 341.5h1.2M128.5 336h1.2M126.5 347h1.2M96 346.5h1.2M123.5 325h1.2M80 336.5h1.2M79 372h1.2M78.5 345.5h1.2M73 367.5h1.2M59 373.5h1.2M58.5 380h1.2M58 378.5h1.2M69 376h1.2M71.5 357h1.2M126 349.5h1.2M157 354h1.2M117 353h1.2M176 346.5h1.2M85 379.5h1.2M110 367.5h1.2M90.5 366h1.2M107.5 381h1.2M98 375h1.2M176.5 346.5h1.2M132 367.5h1.2M122.5 346h1.2M109 345h1.2M145 364h1.2M149 354.5h1.2M62.5 350h1.2M61.5 378.5h1.2M78 355h1.2M92 341h1.2M87 345.5h1.2M91 374.5h1.2M128 359.5h1.2M104.5 379.5h1.2M94.5 359.5h1.2M85 358.5h1.2M57.5 369.5h1.2M157 349.5h1.2M156.5 376.5h1.2M70.5 378h1.2M96 366.5h1.2M135 342h1.2M122 368h1.2M111.5 361h1.2M89.5 362.5h1.2M82 353h1.2M146.5 345.5h1.2M127 371.5h1.2M165 357h1.2M59 356.5h1.2M166 378.5h1.2M152.5 353.5h1.2M140 354.5h1.2M134 366h1.2M166.5 360h1.2M64 340.5h1.2M107.5 344.5h1.2M144 373h1.2M126.5 380h1.2M129 372h1.2M174 343.5h1.2M160.5 344.5h1.2M65 350.5h1.2M107 359.5h1.2M146 358.5h1.2M170 365h1.2M159 350h1.2M152 361h1.2M103.5 350h1.2M185.5 346h1.2M177 364.5h1.2M81.5 370.5h1.2M100 345.5h1.2M74 377h1.2M90.5 358h1.2M71.5 380.5h1.2M60 352.5h1.2M78.5 354.5h1.2M72 358h1.2M58 357h1.2M63.5 360h1.2M68 376h1.2M64.5 356.5h1.2M59 369h1.2M86 355.5h1.2M89.5 359h1.2M88 354h1.2M65 367.5h1.2M63.5 354.5h1.2M78.5 369h1.2M75 379h1.2M72 379.5h1.2M69 374.5h1.2M66.5 354.5h1.2M74 357.5h1.2M75.5 367h1.2M87.5 362.5h1.2M78 365h1.2M73.5 355h1.2M70.5 360.5h1.2M80.5 357h1.2M56.5 352.5h1.2M71.5 361h1.2M86.5 365h1.2M68.5 371.5h1.2M66.5 378.5h1.2M77 375.5h1.2M81 361.5h1.2M85 372.5h1.2M78 347h1.2M57.5 349.5h1.2M77 346h1.2M75.5 353h1.2M88.5 350.5h1.2M57.5 352.5h1.2M78.5 349.5h1.2M64.5 350h1.2M76 353h1.2M91.5 352h1.2M63.5 348.5h1.2M68.5 346h1.2M89.5 351h1.2M80 351h1.2M85 352.5h1.2M89 352h1.2M67 354h1.2M84 350h1.2M79 352h1.2M63 350h1.2M69 349h1.2M89.5 352.5h1.2M86.5 349h1.2M78.5 351h1.2M78.5 351h1.2M69 347.5h1.2M62.5 353h1.2M106.5 350h1.2M100.5 362.5h1.2M78 373.5h1.2M84 356.5h1.2M105 360h1.2M132 362h1.2M103.5 353.5h1.2M111.5 357.5h1.2M131 365h1.2M100.5 356h1.2M112 364h1.2M129 361h1.2M123 348h1.2M120 353.5h1.2M105 351h1.2M92 348.5h1.2M137 373h1.2M86 354.5h1.2M72.5 354.5h1.2M118 356.5h1.2M100.5 364.5h1.2M107 357.5h1.2M132.5 361h1.2M118 357.5h1.2M84 363.5h1.2M116 355h1.2M101 368h1.2M90 353h1.2M109 345.5h1.2M130 349h1.2M134.5 356.5h1.2M84 357.5h1.2M141.5 380h1.2M95 358.5h1.2M102.5 364.5h1.2M134 352.5h1.2M87.5 369h1.2M88.5 350h1.2M90.5 348.5h1.2M91.5 363.5h1.2M124 362.5h1.2M101.5 371h1.2M109.5 363h1.2M109 360h1.2M113.5 359.5h1.2M150 349h1.2M108 360h1.2M63.5 356.5h1.2M101.5 365h1.2M107.5 351.5h1.2M100.5 365h1.2M97.5 347.5h1.2M83 347.5h1.2M66.5 350h1.2M118.5 365.5h1.2M122 366h1.2M112 352h1.2M114.5 350h1.2M113 367.5h1.2M106 359.5h1.2M138.5 365h1.2M122.5 366.5h1.2M105.5 370.5h1.2M91 355h1.2M120 356.5h1.2M100.5 351.5h1.2M73 363.5h1.2M128 358.5h1.2M106.5 363.5h1.2M107 354.5h1.2M92.5 362h1.2M77.5 356h1.2M95 366.5h1.2M102.5 365.5h1.2M98.5 360h1.2M139 356h1.2M123 350.5h1.2M78.5 360.5h1.2M106 350.5h1.2M128.5 357h1.2M93 362h1.2M96 354h1.2M74 350.5h1.2M93 361h1.2M90.5 343h1.2M87 350.5h1.2M101.5 353h1.2M101 362.5h1.2M107 367h1.2M92 365.5h1.2M125.5 342h1.2M92.5 353h1.2M100.5 354.5h1.2M105 356.5h1.2M98.5 359h1.2M121 368h1.2M99 375h1.2M84.5 356h1.2M93.5 352.5h1.2M108.5 350h1.2M107.5 365h1.2M103 371.5h1.2M95 354.5h1.2M90.5 351h1.2M87 358.5h1.2M145.5 353h1.2M129 375.5h1.2M134 368h1.2M139 354.5h1.2M156 364h1.2M134 369.5h1.2M142 369.5h1.2M126.5 363h1.2M99 358h1.2M131.5 354.5h1.2M121 340.5h1.2M138 355.5h1.2M145.5 354h1.2M137 364h1.2M146 364h1.2M137.5 361h1.2M133.5 351.5h1.2M144.5 371h1.2M155.5 351.5h1.2M172 350.5h1.2M136.5 371h1.2M178.5 355.5h1.2M121 366.5h1.2M128.5 359.5h1.2M136.5 348h1.2M102.5 369h1.2M165 365.5h1.2M162.5 363h1.2M134.5 363h1.2M153 350h1.2M133.5 367.5h1.2M148 351h1.2M148 359h1.2M142.5 362.5h1.2M183.5 357.5h1.2M131 351h1.2M152 343h1.2M160.5 360.5h1.2M127 363.5h1.2M152.5 364.5h1.2M144 368h1.2M148.5 359h1.2M151.5 356h1.2M109 353h1.2M155.5 347h1.2M128 357.5h1.2M170 354h1.2M130 358h1.2M143.5 361.5h1.2M122.5 353h1.2M143 340.5h1.2M147 341.5h1.2M154.5 349.5h1.2M145.5 352h1.2M114.5 365.5h1.2M108.5 342.5h1.2M127.5 364.5h1.2M141 359.5h1.2M126.5 356h1.2M139.5 373h1.2M130.5 347.5h1.2M155.5 343h1.2M149 355.5h1.2M128.5 362.5h1.2M140 353h1.2M152.5 337.5h1.2M151 365h1.2M138.5 354.5h1.2M121 362h1.2M154 305.5h1.2M152 294h1.2M150 308.5h1.2M156 326h1.2M149.5 325.5h1.2M145 294h1.2M160.5 320h1.2M161 341.5h1.2M156 314.5h1.2M142 301.5h1.2M154.5 321h1.2M147 318h1.2M150 318h1.2M140.5 331h1.2M163 332h1.2M146.5 326.5h1.2M172 269.5h1.2M160 292h1.2M168.5 308.5h1.2M167 318.5h1.2M136.5 305.5h1.2M180 299.5h1.2M145 342.5h1.2M146 328h1.2M151.5 323.5h1.2M161.5 311h1.2M148 325h1.2M151.5 326h1.2M139.5 313h1.2M144.5 332h1.2M139 342.5h1.2M155 297.5h1.2M145 342.5h1.2M143.5 308h1.2M154.5 328.5h1.2M159 330h1.2M156 302h1.2M154.5 333h1.2M147 321h1.2M154.5 308.5h1.2M154.5 300.5h1.2M162.5 321.5h1.2M159.5 298h1.2M164 326h1.2M154.5 331.5h1.2M158 311.5h1.2M164.5 317.5h1.2M158 310.5h1.2M125 320.5h1.2M121 316.5h1.2M97 340.5h1.2M114 303h1.2M112 302.5h1.2M132.5 312.5h1.2M134.5 333h1.2M114 303h1.2M116.5 346.5h1.2M119 289.5h1.2M156.5 338.5h1.2M109.5 300.5h1.2M129 316h1.2M105.5 324.5h1.2M131.5 330.5h1.2M121.5 308.5h1.2M123.5 311.5h1.2M142 324.5h1.2M128.5 324.5h1.2M91 319.5h1.2M80.5 311h1.2M122 306.5h1.2M120.5 316.5h1.2M111 333.5h1.2M103.5 313.5h1.2M109.5 317h1.2M144 315.5h1.2M138.5 310h1.2M140 344.5h1.2M126 296h1.2M137 321.5h1.2M128.5 319.5h1.2M124.5 316h1.2" fill="none" stroke="#888" stroke-width="1.2" opacity="0.85"/>
<path d="M68.5 360h1.2M86.5 355h1.2M76.5 363h1.2M76.5 372.5h1.2M81.5 367.5h1.2M88 363h1.2M87.5 377.5h1.2M80.5 366h1.2M82.5 367.5h1.2M75 363h1.2M68 349h1.2M87 366h1.2M63.5 359h1.2M82 368.5h1.2M81 355.5h1.2M80.5 361.5h1.2M61.5 353h1.2M70 378h1.2M77.5 380h1.2M59 368.5h1.2M81.5 358h1.2M76 376h1.2M70 373.5h1.2M61 367.5h1.2M74.5 372h1.2M74.5 372h1.2M85 373h1.2M73 357h1.2M61.5 361h1.2M62.5 362h1.2M70.5 364.5h1.2M70 375h1.2M78 374h1.2M58.5 374h1.2M66 354.5h1.2M94.5 375.5h1.2M84.5 354h1.2M85.5 378h1.2M80.5 378h1.2M73 377h1.2M82 375h1.2M72 375h1.2M75 374.5h1.2M63.5 377.5h1.2M61.5 379.5h1.2M60 361h1.2M94 372.5h1.2M78 357h1.2M72.5 372h1.2M58.5 375.5h1.2M95 377.5h1.2M70 353h1.2M68.5 358.5h1.2M77.5 358h1.2M67 370h1.2M93.5 371h1.2M63 348.5h1.2M74 365.5h1.2M92 364h1.2M72.5 373.5h1.2M74.5 348.5h1.2M80 377.5h1.2M55.5 381h1.2M81.5 358.5h1.2M78 358.5h1.2M68 370h1.2M62.5 365.5h1.2M80 371.5h1.2M77.5 368h1.2M89 360.5h1.2M80 360h1.2M78 350h1.2M63.5 372h1.2M75.5 371h1.2M69.5 360.5h1.2M71 356.5h1.2M69 372h1.2M57.5 355h1.2M75.5 373h1.2M63.5 376.5h1.2M70.5 377h1.2M65 359.5h1.2M72 364h1.2M83 362.5h1.2M63 367.5h1.2M67.5 360.5h1.2M80 371.5h1.2M59 376.5h1.2M64.5 376.5h1.2M74 361h1.2M79.5 374.5h1.2M79 376.5h1.2M91 365h1.2M97 374.5h1.2M97.5 364h1.2M65 358.5h1.2M81 354.5h1.2M58 353h1.2M69 363.5h1.2M71.5 360.5h1.2M79.5 350.5h1.2M75 361h1.2M72 375.5h1.2M71.5 361.5h1.2M70 356.5h1.2M87.5 362.5h1.2M87 364h1.2M74.5 358h1.2M59 371h1.2M83 358.5h1.2M75 361h1.2M66 375.5h1.2M63 366h1.2M71.5 359h1.2M81.5 373h1.2M97.5 367.5h1.2M79 368.5h1.2M77.5 355.5h1.2M78.5 364.5h1.2M85.5 361.5h1.2M80.5 361.5h1.2M68 369h1.2M91 365.5h1.2M84.5 364.5h1.2M77 373.5h1.2M82.5 378h1.2M89 374.5h1.2M75.5 372.5h1.2M62 368h1.2M80 360.5h1.2M77 369h1.2M85.5 369h1.2M66.5 367.5h1.2M68 368.5h1.2M75.5 372.5h1.2M68 375.5h1.2M63.5 365.5h1.2M80.5 373h1.2M58.5 376.5h1.2M75.5 368.5h1.2M76 371.5h1.2M71 367.5h1.2M73.5 373h1.2M73.5 359.5h1.2M67 370.5h1.2M75.5 360.5h1.2M99 366.5h1.2M61.5 364h1.2M69 351.5h1.2M80.5 373.5h1.2M68 362h1.2M83 371.5h1.2M64.5 374h1.2M71.5 364.5h1.2M64.5 365h1.2M59.5 358h1.2M60 379h1.2M80.5 355.5h1.2M85.5 382h1.2M91 370h1.2M72 367.5h1.2M72 361h1.2M79.5 374h1.2M65 359.5h1.2M70 371.5h1.2M75.5 375h1.2M72.5 374h1.2M56.5 376h1.2M65 373h1.2M86.5 367.5h1.2M80 375.5h1.2M87 378h1.2M58.5 366.5h1.2M74.5 369h1.2M83.5 362.5h1.2M74.5 364h1.2M77.5 373.5h1.2M60 375h1.2M70.5 381.5h1.2M62.5 356.5h1.2M75.5 376.5h1.2M69 372.5h1.2M85.5 368h1.2M68 363.5h1.2M76 376h1.2M65 361h1.2M59 368h1.2M64 369.5h1.2M62.5 364h1.2M66.5 374.5h1.2M82.5 373h1.2M82.5 366h1.2M71.5 367h1.2M68 361.5h1.2M57.5 370h1.2M73 365h1.2M74 366.5h1.2M71 373.5h1.2M75 374.5h1.2M66.5 364.5h1.2M72 374h1.2M66.5 367.5h1.2M73.5 364.5h1.2M76.5 377.5h1.2M64.5 374.5h1.2M75 377.5h1.2M73.5 376h1.2M87.5 364h1.2M57.5 367h1.2M64.5 369.5h1.2M77 361h1.2M70.5 371.5h1.2M71.5 373.5h1.2M74 368.5h1.2M78 362.5h1.2M78.5 376h1.2M74.5 375.5h1.2M75 373.5h1.2M66 360.5h1.2M66 362.5h1.2M71 363.5h1.2M74.5 365h1.2M83.5 372h1.2M63 359.5h1.2M61.5 366h1.2M67.5 378h1.2M84.5 376h1.2M74.5 355.5h1.2M81 368.5h1.2M78 365.5h1.2M69.5 351.5h1.2M79 377.5h1.2M60 363h1.2M73 369h1.2M66.5 352h1.2M65.5 365.5h1.2M71.5 373.5h1.2M75 357.5h1.2M76 367h1.2M78 370.5h1.2M57.5 371.5h1.2M87.5 376h1.2M67 362h1.2M66.5 355.5h1.2M69 358h1.2M81.5 366.5h1.2M71.5 381h1.2M58 379.5h1.2M86 372.5h1.2M71.5 362.5h1.2M73 375.5h1.2M63.5 360h1.2M89.5 369.5h1.2M89.5 356h1.2M68 360.5h1.2M68 373h1.2M56 356h1.2M75.5 370h1.2M59 357h1.2M85.5 369h1.2M56 362.5h1.2M85 369.5h1.2M88 378.5h1.2M73.5 365h1.2M84 354h1.2M68.5 360h1.2M87.5 361.5h1.2M66 381h1.2M84 364.5h1.2M70 378.5h1.2M84 377h1.2M91 381h1.2M79 367.5h1.2M70 375h1.2M76.5 365.5h1.2M89 362h1.2M88.5 375h1.2M68.5 380h1.2M60.5 361h1.2M155.5 302h1.2M162.5 305.5h1.2M166.5 296.5h1.2M162.5 316h1.2M153 321.5h1.2M164.5 304.5h1.2M174 318.5h1.2M157 304h1.2M147 303.5h1.2M159 309.5h1.2M152 322.5h1.2M162 310.5h1.2M162.5 300.5h1.2M160.5 311.5h1.2M158.5 288.5h1.2M158 326h1.2M171.5 312h1.2M157 316h1.2M163.5 321h1.2M166 311h1.2M158 314h1.2M162 310.5h1.2M163 301.5h1.2M157 319.5h1.2M165 318.5h1.2M150.5 330h1.2M163.5 312.5h1.2M158 318.5h1.2M166 314.5h1.2M168 312h1.2M165 327.5h1.2M165 303.5h1.2M163.5 320.5h1.2M162.5 299h1.2M182 342h1.2M157.5 317h1.2M167.5 309h1.2M156 312.5h1.2M172 311h1.2M160.5 308.5h1.2M157 312h1.2M160.5 322.5h1.2M159.5 326h1.2M171.5 327h1.2M162 314h1.2M173.5 324.5h1.2M160 328h1.2M170 303h1.2M165.5 313h1.2M152 308.5h1.2M170 311h1.2M169.5 304.5h1.2M155 313h1.2M169 312.5h1.2M148 301h1.2M164.5 307.5h1.2M158.5 302h1.2M157 298.5h1.2M164 331h1.2M161.5 324.5h1.2M175.5 308h1.2M157 297h1.2M154 323h1.2M172 286.5h1.2M160 312.5h1.2M154.5 310.5h1.2M164.5 298h1.2M154.5 311.5h1.2M165 318.5h1.2M175 313.5h1.2M171 331.5h1.2M161.5 306.5h1.2M166.5 294h1.2M165 297h1.2M148.5 284h1.2M151.5 321h1.2M167 302.5h1.2M157.5 322h1.2M171 289.5h1.2M154 318h1.2M163 326.5h1.2M159.5 320h1.2M154.5 285.5h1.2M163 312h1.2M153.5 303.5h1.2M165.5 312h1.2M166 325h1.2M164 315.5h1.2M158.5 304h1.2M168 295h1.2M163.5 312h1.2M148.5 322.5h1.2M174.5 296h1.2M153.5 307.5h1.2M166.5 317h1.2M160 309h1.2M166.5 306h1.2M161.5 329h1.2M158 309.5h1.2M167 308h1.2M158.5 305h1.2M175.5 303.5h1.2M166 301h1.2M149.5 327h1.2M152.5 314h1.2M157 284.5h1.2M165.5 319.5h1.2M151.5 299.5h1.2M152 326.5h1.2M162.5 292h1.2M175 302.5h1.2M166 302h1.2M161.5 314.5h1.2M166.5 321h1.2M165.5 291.5h1.2M157.5 303.5h1.2M163.5 309h1.2M174 321.5h1.2M162 323h1.2M157 316h1.2M161 318.5h1.2M150 316h1.2M161 310h1.2M152.5 306.5h1.2M141 334h1.2M157 314.5h1.2M146 306h1.2M161 306.5h1.2M148 335.5h1.2M149 314h1.2M154.5 301.5h1.2M156 304h1.2M159 292h1.2M159.5 332.5h1.2M127 288.5h1.2M141 312h1.2M151 312.5h1.2M156 304h1.2M154.5 324.5h1.2M156 311h1.2M169 341h1.2M149.5 294.5h1.2M139.5 307h1.2M160 298h1.2M157 295h1.2M159.5 303h1.2M152.5 324h1.2M142.5 305h1.2M159 325.5h1.2M140.5 329h1.2M148.5 296h1.2M150.5 329h1.2M142 322h1.2M172 314.5h1.2M145 314h1.2M177 335h1.2M146.5 325h1.2M137.5 317h1.2M165.5 289.5h1.2M130 304h1.2M137 331.5h1.2M154 301h1.2M151 324h1.2M152 304.5h1.2M169.5 314h1.2M162.5 306.5h1.2M157.5 314h1.2M143.5 314h1.2M164 310.5h1.2M148 292.5h1.2M158 300.5h1.2M154.5 327h1.2M161 352h1.2M167.5 320h1.2M158.5 334.5h1.2M153.5 322h1.2M155.5 299h1.2M143 306.5h1.2M160.5 293h1.2M160 314.5h1.2M154 322h1.2M171 328.5h1.2M160.5 316h1.2" fill="none" stroke="#222" stroke-width="1.2" opacity="0.85"/>
<path d="M65.5 362h1.2M84.5 367.5h1.2M60 380.5h1.2M61.5 370h1.2M78 370h1.2M71 376.5h1.2M64.5 374h1.2M92 368h1.2M57.5 367h1.2M75.5 366h1.2M68.5 369h1.2M89 361h1.2M77 360h1.2M84 373h1.2M69.5 358.5h1.2M75 371h1.2M64 354.5h1.2M70 376h1.2M76.5 363.5h1.2M68 361h1.2M70 374.5h1.2M62 366h1.2M81 369.5h1.2M78 356h1.2M76 365.5h1.2M69.5 358h1.2M77.5 372h1.2M70.5 369.5h1.2M68 367h1.2M79.5 354h1.2M87.5 371h1.2M86 352h1.2M77 364.5h1.2M100.5 370h1.2M100 369.5h1.2M93.5 367.5h1.2M70 363h1.2M74.5 359.5h1.2M73.5 367h1.2M82.5 360.5h1.2M68.5 367h1.2M88.5 373h1.2M87.5 370h1.2M86 361h1.2M77 375.5h1.2M76.5 376h1.2M64 374h1.2M69 370h1.2M66 352.5h1.2M71 371h1.2M65.5 357h1.2M60 371.5h1.2M67 368.5h1.2M56 374h1.2M76.5 380.5h1.2M65 378.5h1.2M93 352h1.2M56.5 361.5h1.2M91 367h1.2M83 375.5h1.2M88 362.5h1.2M60.5 366.5h1.2M70.5 372h1.2M71.5 375h1.2M68.5 362h1.2M80 367.5h1.2M69.5 361h1.2M69.5 374h1.2M73.5 370.5h1.2M93 350.5h1.2M81 371.5h1.2M74.5 363h1.2M65 366.5h1.2M67 363.5h1.2M80 369h1.2M64.5 365h1.2M62 362.5h1.2M89 364.5h1.2M96 362.5h1.2M70 359h1.2M79 369h1.2M60.5 359h1.2M73.5 360h1.2M85.5 360.5h1.2M85 382h1.2M57.5 355.5h1.2M76.5 370h1.2M60.5 367h1.2M79.5 356.5h1.2M76.5 373h1.2M92.5 355h1.2M72.5 382h1.2M79 350.5h1.2M85 364.5h1.2M56 378h1.2M88 371h1.2M85 367.5h1.2M70 365h1.2M61 373h1.2M70 363.5h1.2M81.5 368h1.2M65.5 368h1.2M64 373h1.2M64 380.5h1.2M83 363.5h1.2M79.5 375h1.2M57.5 356.5h1.2M70 374h1.2M95 379.5h1.2M74.5 365.5h1.2M64.5 363h1.2M94.5 346h1.2M68.5 369.5h1.2M86 361h1.2M84 359h1.2M111 356.5h1.2M72 379.5h1.2M76 377.5h1.2M60.5 377h1.2M94 357.5h1.2M68.5 361.5h1.2M63 367h1.2M58.5 359.5h1.2M84 374.5h1.2M73.5 372h1.2M62.5 362.5h1.2M73 362h1.2M81.5 380.5h1.2M70 364.5h1.2M71.5 370.5h1.2M79 381.5h1.2M92.5 361h1.2M76 370.5h1.2M77.5 379h1.2M72 361.5h1.2M84.5 356.5h1.2M61 353.5h1.2M78.5 353h1.2M79 372h1.2M86.5 352.5h1.2M106.5 366h1.2M75.5 376h1.2M73.5 380.5h1.2M81 358h1.2M73.5 369h1.2M79.5 378h1.2M79 361h1.2M66 355h1.2M79.5 371.5h1.2M89 363.5h1.2M84 379.5h1.2M62.5 370h1.2M78 353.5h1.2M77 354h1.2M57 373.5h1.2M75 372h1.2M66 380.5h1.2M59 370h1.2M70 364.5h1.2M87.5 378.5h1.2M74 370.5h1.2M85 350h1.2M82.5 372.5h1.2M71.5 366.5h1.2M62.5 375h1.2M77.5 365h1.2M67.5 372.5h1.2M60 353.5h1.2M78.5 363.5h1.2M81 377.5h1.2M89.5 378h1.2M67 367.5h1.2M100.5 350h1.2M96 353.5h1.2M69 381.5h1.2M79.5 363h1.2M70 375h1.2M70.5 364.5h1.2M66.5 368.5h1.2M75 371.5h1.2M64.5 379.5h1.2M76 368h1.2M95 371h1.2M81.5 359.5h1.2M66 373.5h1.2M74 360.5h1.2M71 376h1.2M75 368h1.2M78 379h1.2M81 375h1.2M77.5 376h1.2M68 370h1.2M68 371h1.2M63.5 358.5h1.2M68.5 367h1.2M68 373h1.2M62 378h1.2M85.5 362.5h1.2M78 371.5h1.2M70.5 366.5h1.2M75.5 373h1.2M69.5 369.5h1.2M58 363h1.2M64.5 365.5h1.2M67.5 374h1.2M71 367.5h1.2M75 373h1.2M71.5 371h1.2M64.5 379.5h1.2M67 365.5h1.2M76.5 368.5h1.2M76.5 379h1.2M62.5 364h1.2M78.5 369.5h1.2M79 353h1.2M60 366h1.2M88.5 359h1.2M67 378.5h1.2M68.5 370h1.2M74.5 364h1.2M66 364.5h1.2M76.5 372h1.2M79 370h1.2M86.5 373h1.2M70 368.5h1.2M68 371h1.2M76.5 378.5h1.2M72 366h1.2M69.5 370h1.2M74.5 366h1.2M77.5 376h1.2M80 369.5h1.2M67.5 367.5h1.2M65 367h1.2M69.5 371.5h1.2M81.5 360h1.2M74 373h1.2M64.5 373h1.2M79.5 373h1.2M74 371.5h1.2M62.5 366.5h1.2M75.5 365.5h1.2M62 358h1.2M63.5 355.5h1.2M65.5 362h1.2M72.5 375h1.2M71.5 374.5h1.2M81 361h1.2M76.5 372.5h1.2M83.5 369h1.2M68.5 373.5h1.2M82.5 364.5h1.2M69 364h1.2M78.5 373.5h1.2M62 362.5h1.2M59 372.5h1.2M76.5 371h1.2M62.5 378.5h1.2M85 367h1.2M85 370h1.2M77.5 364.5h1.2M74.5 371.5h1.2M76 372h1.2M78 367.5h1.2M73 380h1.2M79 354.5h1.2M68.5 360h1.2M82 368h1.2M60 376.5h1.2M59.5 359.5h1.2M64.5 370.5h1.2M60.5 367h1.2M70.5 379h1.2M82 355h1.2M59 362h1.2M73.5 367.5h1.2M69 376h1.2M87.5 379.5h1.2M76.5 355h1.2M69.5 361.5h1.2M87.5 377h1.2M67 371.5h1.2M71 375.5h1.2M78.5 356.5h1.2M85 377h1.2M58 371.5h1.2M73.5 380h1.2M81 369.5h1.2M76 366.5h1.2M58 366h1.2M68.5 354h1.2M83.5 379h1.2M87 374h1.2M87.5 359h1.2M62.5 353.5h1.2M79 368h1.2M58.5 378h1.2M62 374h1.2M63 370h1.2M69.5 364.5h1.2M63 354h1.2M61.5 379h1.2M63.5 355.5h1.2M89.5 372h1.2M167.5 314.5h1.2M161.5 317h1.2M170 309.5h1.2M158 315h1.2M157.5 281h1.2M161.5 333.5h1.2M167.5 321h1.2M169 304.5h1.2M162.5 321h1.2M151.5 319h1.2M169 291.5h1.2M160 322.5h1.2M160.5 316.5h1.2M175.5 301h1.2M151 313h1.2M159.5 313h1.2M168 315h1.2M171.5 306.5h1.2M158.5 314h1.2M158.5 319.5h1.2M152 310.5h1.2M173.5 315.5h1.2M161.5 316h1.2M160 328h1.2M167.5 307.5h1.2M158 314h1.2M170 302h1.2M154 334h1.2M164.5 309.5h1.2M178 326h1.2M163.5 315.5h1.2M163.5 311.5h1.2M148.5 297.5h1.2M154 319.5h1.2M165 318h1.2M164 304h1.2M159.5 300.5h1.2M170.5 311.5h1.2M159 316.5h1.2M160 322.5h1.2M144 295.5h1.2M150.5 296h1.2M161 311.5h1.2M166.5 322h1.2M161.5 316h1.2M152.5 328.5h1.2M170.5 307h1.2M163 303h1.2M162.5 303h1.2M164.5 324h1.2M166.5 319h1.2M159.5 303.5h1.2M159.5 311h1.2M166 322.5h1.2M159 316.5h1.2M166.5 325.5h1.2M164 314.5h1.2M165.5 320h1.2M156.5 332.5h1.2M159.5 277.5h1.2M150 288.5h1.2M170 312.5h1.2M160.5 292.5h1.2M158.5 303h1.2M166 288.5h1.2M159.5 324.5h1.2M151 320.5h1.2M158 287h1.2M155.5 315.5h1.2M162.5 319.5h1.2M169 310.5h1.2M168 309.5h1.2M159 310.5h1.2M153.5 316.5h1.2M159.5 310.5h1.2M156.5 317h1.2M165 324.5h1.2M158.5 314.5h1.2M170 309h1.2M171.5 307.5h1.2M152 308.5h1.2M168 326h1.2M164 306.5h1.2M161 289.5h1.2M170.5 311h1.2M167.5 291.5h1.2M158 315h1.2M168.5 299.5h1.2M154.5 307h1.2M163 324.5h1.2M178 301.5h1.2M166 296.5h1.2M156.5 314h1.2M151.5 306h1.2M167 311h1.2M158.5 298h1.2M163 303.5h1.2M181 325h1.2M167.5 318.5h1.2M172 314h1.2M162 307.5h1.2M166 308h1.2M160 302h1.2M164.5 307h1.2M162.5 324h1.2M155 312.5h1.2M148 309h1.2M164.5 305.5h1.2M161.5 315h1.2M169.5 305.5h1.2M159.5 308.5h1.2M164.5 318h1.2M160 302.5h1.2M172 302h1.2M144.5 322.5h1.2M156.5 316h1.2M149 307h1.2M165.5 313.5h1.2M163.5 342h1.2M172 304h1.2M154.5 296h1.2M161 315h1.2M157.5 300.5h1.2M164 308h1.2M164 299.5h1.2M165 321h1.2M165 326.5h1.2M165 313h1.2M157.5 322h1.2M170.5 292h1.2M147 307h1.2M166 301.5h1.2M163 328.5h1.2M163.5 328.5h1.2M159.5 300.5h1.2M159.5 316.5h1.2M162.5 305.5h1.2M161 308h1.2M164 316h1.2M148 298h1.2M152 315h1.2M160 325h1.2M172.5 308.5h1.2M166 310.5h1.2M158 306.5h1.2M157.5 317h1.2M159 330h1.2M169 306.5h1.2M155.5 304.5h1.2M166 310h1.2M173.5 302h1.2M136 328h1.2M158 300h1.2M141 296.5h1.2M141.5 303.5h1.2M128.5 313h1.2M144 318h1.2M161.5 314h1.2M145.5 302.5h1.2M166 314h1.2M162.5 332.5h1.2M150 299.5h1.2M134.5 314.5h1.2M160.5 332h1.2M138.5 329h1.2M161 311.5h1.2M139.5 308h1.2M165.5 303.5h1.2M155 322h1.2M172.5 312h1.2M155.5 321h1.2M156 322.5h1.2M140.5 329h1.2M158 294h1.2M163.5 340.5h1.2M156.5 327h1.2M139 339h1.2M121 330.5h1.2M170.5 306h1.2M144.5 301.5h1.2M149.5 321.5h1.2M164.5 328h1.2M148 312.5h1.2M138.5 307.5h1.2M143.5 324.5h1.2M158.5 323h1.2M146.5 309h1.2M166 306.5h1.2M150.5 305.5h1.2M166 300.5h1.2M130 319.5h1.2M151 298h1.2M176.5 309.5h1.2M137 306.5h1.2M166 309.5h1.2M157 297h1.2M146.5 312h1.2M165 350.5h1.2M166 306h1.2M157.5 306.5h1.2M148 315h1.2M162 300.5h1.2M163 306.5h1.2M158 334.5h1.2M148.5 313.5h1.2M162.5 301.5h1.2M161.5 325h1.2M167.5 322h1.2" fill="none" stroke="#111" stroke-width="1.2" opacity="0.85"/>
<path d="M75 366.5h1.2M66 375h1.2M74.5 351.5h1.2M64 366.5h1.2M56.5 368h1.2M67.5 377h1.2M77 361h1.2M75 369h1.2M81.5 366h1.2M88.5 368.5h1.2M90 372.5h1.2M90.5 360.5h1.2M73 372.5h1.2M65.5 358h1.2M74 377h1.2M61 379h1.2M72 376h1.2M80.5 350.5h1.2M99 377.5h1.2M58.5 375h1.2M77.5 373h1.2M70.5 364h1.2M76 375.5h1.2M71 365.5h1.2M65 377h1.2M72.5 362h1.2M71 380h1.2M75 364.5h1.2M74 362h1.2M86.5 370.5h1.2M63 361.5h1.2M82 357h1.2M94.5 351.5h1.2M70 363.5h1.2M68.5 374.5h1.2M81 374.5h1.2M63 361.5h1.2M71.5 368h1.2M80 379h1.2M74.5 365h1.2M72.5 362h1.2M58.5 376h1.2M60 355.5h1.2M67.5 380h1.2M84 354h1.2M62 374.5h1.2M63.5 369h1.2M83 345h1.2M56.5 362.5h1.2M70 355h1.2M68 368.5h1.2M81.5 358.5h1.2M65 367.5h1.2M68.5 367h1.2M81 368.5h1.2M86.5 372h1.2M81 372h1.2M56 373.5h1.2M92 342h1.2M92.5 354h1.2M74.5 370h1.2M79.5 371.5h1.2M70.5 377h1.2M75.5 372h1.2M95 380.5h1.2M78.5 354.5h1.2M68 361h1.2M75 365h1.2M82 371h1.2M76.5 364h1.2M60 379.5h1.2M89 372.5h1.2M76 370.5h1.2M65 370.5h1.2M69.5 365h1.2M69 357.5h1.2M70 363.5h1.2M85.5 381.5h1.2M71.5 349.5h1.2M78 361h1.2M65 370h1.2M72 366h1.2M91.5 349.5h1.2M59 373h1.2M80.5 366.5h1.2M79.5 367h1.2M82.5 372h1.2M61.5 373.5h1.2M60.5 357.5h1.2M79.5 359.5h1.2M59 368h1.2M75.5 373.5h1.2M77.5 373.5h1.2M75.5 360h1.2M69 375.5h1.2M73.5 364h1.2M57.5 371h1.2M76.5 367.5h1.2M74 374h1.2M68.5 374h1.2M96 354h1.2M74.5 376h1.2M76 373h1.2M75 367h1.2M72 360h1.2M76 375.5h1.2M66 363.5h1.2M73 361h1.2M65.5 376h1.2M64.5 377.5h1.2M64.5 359.5h1.2M75 361h1.2M64 366h1.2M79 372h1.2M59 346h1.2M89.5 381h1.2M93.5 361h1.2M60.5 377.5h1.2M60 362.5h1.2M74 363.5h1.2M55.5 373.5h1.2M84 373h1.2M71.5 371.5h1.2M73.5 357.5h1.2M84 353h1.2M71 345.5h1.2M59.5 353.5h1.2M86 346h1.2M64 368.5h1.2M67.5 377.5h1.2M68 357.5h1.2M87.5 378h1.2M64.5 374h1.2M62.5 365h1.2M76 375h1.2M78.5 374.5h1.2M88 375.5h1.2M60 377.5h1.2M72 374h1.2M74 373.5h1.2M72 363h1.2M70 366.5h1.2M81.5 369.5h1.2M79 369.5h1.2M72.5 363.5h1.2M66 356.5h1.2M77.5 379h1.2M56 382h1.2M75 354h1.2M80 357h1.2M71.5 370h1.2M78 374.5h1.2M80.5 365.5h1.2M74.5 374.5h1.2M75 364h1.2M69.5 372h1.2M79.5 367.5h1.2M69 378h1.2M67 369h1.2M76 369.5h1.2M58.5 361h1.2M61 376.5h1.2M85 370h1.2M59 372.5h1.2M84 357h1.2M78 377.5h1.2M84.5 374.5h1.2M77.5 361h1.2M63.5 374.5h1.2M67 346h1.2M63 369.5h1.2M81 378h1.2M78.5 356.5h1.2M72 345.5h1.2M59.5 371h1.2M74.5 367h1.2M75 376h1.2M72 368.5h1.2M85.5 373.5h1.2M62 360.5h1.2M75 376.5h1.2M73 359h1.2M77.5 371.5h1.2M70.5 365h1.2M64 369.5h1.2M69.5 373h1.2M72 367h1.2M71 367h1.2M68.5 372.5h1.2M73.5 359.5h1.2M67.5 378h1.2M63.5 366.5h1.2M61.5 361h1.2M69.5 371h1.2M69 381.5h1.2M77 369.5h1.2M73.5 358.5h1.2M70.5 370h1.2M72.5 359.5h1.2M62.5 373h1.2M63.5 366.5h1.2M75.5 366.5h1.2M68 376.5h1.2M67.5 374h1.2M73 379h1.2M73.5 362.5h1.2M62.5 372h1.2M71.5 370h1.2M71.5 365.5h1.2M66.5 367.5h1.2M74.5 372.5h1.2M62 371.5h1.2M82.5 359h1.2M67 372h1.2M66.5 370.5h1.2M70.5 365.5h1.2M57 375h1.2M78 381h1.2M68 363.5h1.2M72.5 366h1.2M68.5 370h1.2M74 370.5h1.2M84 368h1.2M64.5 362h1.2M67.5 358.5h1.2M69.5 372h1.2M68.5 363.5h1.2M58.5 371.5h1.2M70.5 356.5h1.2M80.5 362h1.2M65.5 366.5h1.2M63.5 370h1.2M74.5 366h1.2M66.5 376h1.2M62 375.5h1.2M65.5 377.5h1.2M70 376.5h1.2M84.5 365h1.2M81 363.5h1.2M56.5 376h1.2M62 371h1.2M80.5 373h1.2M78.5 365.5h1.2M59 370.5h1.2M75 358.5h1.2M73 380.5h1.2M90.5 379.5h1.2M81.5 372.5h1.2M62 359h1.2M56.5 353h1.2M78 379.5h1.2M58.5 374.5h1.2M84 357.5h1.2M75.5 381.5h1.2M74.5 363.5h1.2M63.5 361.5h1.2M80 373h1.2M76 377.5h1.2M64 359.5h1.2M60 358.5h1.2M89.5 354.5h1.2M59 355.5h1.2M72.5 379.5h1.2M66.5 368h1.2M74 367h1.2M82.5 380.5h1.2M74 366h1.2M89.5 357.5h1.2M61 357.5h1.2M89.5 377.5h1.2M85.5 352.5h1.2M83 353.5h1.2M86.5 353.5h1.2M62.5 353h1.2M77 367.5h1.2M59.5 364.5h1.2M72.5 377h1.2M66 368h1.2M62 357.5h1.2M61 366h1.2M57 374.5h1.2M75.5 367.5h1.2M80.5 366.5h1.2M61.5 366.5h1.2M65.5 365.5h1.2M167 318.5h1.2M169 311h1.2M160.5 334.5h1.2M163.5 324.5h1.2M162 308h1.2M166.5 275h1.2M164.5 317h1.2M161 303h1.2M161 282.5h1.2M167 302h1.2M165 318h1.2M168 287h1.2M159.5 302h1.2M165.5 289.5h1.2M158 298.5h1.2M151.5 303h1.2M167 290.5h1.2M157 313h1.2M163.5 291.5h1.2M157.5 315h1.2M153.5 334h1.2M173 309.5h1.2M164.5 312h1.2M159.5 317.5h1.2M165.5 317h1.2M161 309h1.2M172 295.5h1.2M163.5 300.5h1.2M161 301h1.2M163.5 303.5h1.2M156.5 319h1.2M179 318.5h1.2M159 293.5h1.2M165.5 309h1.2M168 305h1.2M157.5 308.5h1.2M160 299.5h1.2M170 304.5h1.2M154 301.5h1.2M147 322h1.2M165 325h1.2M154 312h1.2M166 296.5h1.2M152 327h1.2M159.5 325.5h1.2M170 300h1.2M163 306h1.2M162 300h1.2M156.5 310h1.2M156.5 307h1.2M173 323h1.2M157.5 306.5h1.2M154 286h1.2M169 293.5h1.2M170 309.5h1.2M159 305.5h1.2M158 323h1.2M161 290h1.2M171.5 302h1.2M166 313h1.2M176 320.5h1.2M162.5 298.5h1.2M157 323h1.2M166 332.5h1.2M169.5 322h1.2M160.5 294.5h1.2M168 302h1.2M167 317h1.2M158 312h1.2M170 335.5h1.2M153 328h1.2M165 309.5h1.2M163.5 317h1.2M156 348.5h1.2M157 318h1.2M161.5 308.5h1.2M158 311.5h1.2M163 297h1.2M177 332h1.2M150.5 325.5h1.2M163 315h1.2M163 297h1.2M155 305.5h1.2M161 315.5h1.2M154 319.5h1.2M155.5 314h1.2M167 326.5h1.2M155.5 310h1.2M163 328.5h1.2M157.5 313h1.2M154 299h1.2M158 297h1.2M166.5 323h1.2M162.5 318h1.2M162.5 308.5h1.2M149 289.5h1.2M164.5 315.5h1.2M157 307h1.2M161 310.5h1.2M158 296.5h1.2M165 297.5h1.2M150.5 319h1.2M159 296.5h1.2M163.5 301h1.2M144 319.5h1.2M168 315.5h1.2M166.5 317.5h1.2M167.5 308.5h1.2M153.5 310h1.2M165.5 313.5h1.2M158 300h1.2M172.5 309.5h1.2M156 289.5h1.2M155.5 315.5h1.2M155 311h1.2M163.5 311.5h1.2M150 327.5h1.2M163.5 304h1.2M151 320.5h1.2M166 314h1.2M165 309h1.2M170 303.5h1.2M164 332h1.2M164 321h1.2M162.5 288.5h1.2M158.5 316h1.2M158.5 305h1.2M159 284.5h1.2M157.5 308.5h1.2M161.5 301.5h1.2M153 307.5h1.2M164.5 310h1.2M160.5 318.5h1.2M161 314.5h1.2M169 313h1.2M160 315.5h1.2M157 323h1.2M144 312h1.2M157.5 306.5h1.2M168.5 308h1.2M137.5 304.5h1.2M171.5 325h1.2M156.5 292.5h1.2M161 324.5h1.2M158.5 332h1.2M156.5 308h1.2M151.5 320h1.2M147.5 335.5h1.2M155 307h1.2M154.5 325h1.2M162 319h1.2M162.5 337h1.2M173 325h1.2M149.5 324h1.2M140.5 294.5h1.2M162.5 285.5h1.2M162.5 323.5h1.2M159 299.5h1.2M147.5 304h1.2M144.5 342h1.2M165.5 301h1.2M163.5 314h1.2M150.5 317h1.2M165.5 298h1.2M156 337.5h1.2M166 302.5h1.2M161.5 319.5h1.2M159.5 322h1.2M163.5 326h1.2M165 291.5h1.2M147 326h1.2M136.5 298.5h1.2M166 307h1.2M139.5 304.5h1.2M144.5 302.5h1.2M160.5 313.5h1.2M145.5 296.5h1.2M157 325h1.2M155.5 313h1.2M166.5 335h1.2M169.5 303.5h1.2M147 310.5h1.2M169 305h1.2M145 329.5h1.2M161 304h1.2M144 308.5h1.2M167.5 316h1.2M158.5 311.5h1.2M146.5 306h1.2M153.5 338h1.2" fill="none" stroke="#555" stroke-width="1.2" opacity="0.85"/>
<path d="M88 372.5h1.2M64.5 358h1.2M86 368.5h1.2M62.5 366.5h1.2M82 348.5h1.2M75.5 368.5h1.2M79 363.5h1.2M66.5 364.5h1.2M60.5 361h1.2M96.5 366h1.2M81 349h1.2M84 354h1.2M68 358.5h1.2M74.5 381.5h1.2M84 362h1.2M59.5 354h1.2M62.5 372.5h1.2M73.5 362.5h1.2M82 376h1.2M70.5 359h1.2M59.5 366h1.2M69.5 366.5h1.2M55.5 372h1.2M71 368h1.2M56 368h1.2M76.5 363.5h1.2M75 370.5h1.2M78.5 354h1.2M78.5 374.5h1.2M75.5 365h1.2M89 359.5h1.2M64 368h1.2M96 360h1.2M74 379h1.2M76 366h1.2M77.5 351.5h1.2M69 370.5h1.2M63.5 353h1.2M62 378.5h1.2M62.5 347.5h1.2M93.5 374.5h1.2M73 348h1.2M60.5 354h1.2M64.5 359.5h1.2M75 359h1.2M58.5 370.5h1.2M63.5 366.5h1.2M68 359h1.2M80.5 373h1.2M81 381.5h1.2M59.5 365.5h1.2M88.5 358.5h1.2M66 373.5h1.2M71.5 377h1.2M68 362h1.2M66 370.5h1.2M72.5 345h1.2M65.5 376h1.2M58.5 371.5h1.2M81 380h1.2M88 368.5h1.2M80.5 356h1.2M76.5 356.5h1.2M68 353h1.2M91.5 358.5h1.2M80.5 378h1.2M85.5 363h1.2M74 348h1.2M68 364h1.2M73 370h1.2M78.5 365h1.2M73.5 369.5h1.2M82.5 349h1.2M63.5 356.5h1.2M75 380.5h1.2M59.5 369.5h1.2M66 373.5h1.2M66.5 365.5h1.2M63.5 376.5h1.2M64 360.5h1.2M63 371h1.2M80 364h1.2M63.5 364h1.2M68.5 371h1.2M75.5 350h1.2M80.5 365.5h1.2M72.5 365.5h1.2M81.5 354.5h1.2M66.5 367.5h1.2M68.5 349h1.2M69 369.5h1.2M84 364h1.2M64.5 375.5h1.2M60.5 352.5h1.2M84 379.5h1.2M70 373.5h1.2M83 356.5h1.2M74.5 367.5h1.2M73.5 361h1.2M84.5 340.5h1.2M91 349.5h1.2M77 369.5h1.2M94.5 374h1.2M61 369h1.2M84 356h1.2M67 366h1.2M74 374.5h1.2M73 353h1.2M70 367h1.2M59.5 369.5h1.2M68 364h1.2M63 355h1.2M77 355.5h1.2M81 378h1.2M74.5 364.5h1.2M70 379h1.2M83 370h1.2M70.5 368h1.2M89 357.5h1.2M88 342h1.2M84 374.5h1.2M75 353.5h1.2M67.5 369h1.2M76.5 380.5h1.2M79 354.5h1.2M62.5 370.5h1.2M68.5 358h1.2M65.5 363h1.2M85.5 373h1.2M89 380h1.2M90.5 367.5h1.2M81.5 365h1.2M61 367h1.2M89 367.5h1.2M74 361.5h1.2M75.5 358h1.2M71 352.5h1.2M70.5 372h1.2M68.5 374.5h1.2M85 378.5h1.2M78 368h1.2M81.5 374h1.2M61 368h1.2M70 377.5h1.2M61 380.5h1.2M63.5 356h1.2M58.5 373h1.2M66 377h1.2M70.5 370.5h1.2M76.5 361h1.2M92 366h1.2M63.5 367.5h1.2M66.5 375.5h1.2M69 364h1.2M67.5 371.5h1.2M66 372h1.2M70 361h1.2M69.5 379.5h1.2M81.5 355.5h1.2M101 357.5h1.2M92 370.5h1.2M75.5 376.5h1.2M58 364h1.2M75 380.5h1.2M81.5 378h1.2M57.5 356.5h1.2M75 368h1.2M70 372.5h1.2M82.5 368h1.2M75 365.5h1.2M87 366h1.2M76.5 370h1.2M82 368.5h1.2M72 364h1.2M75.5 362h1.2M65.5 357.5h1.2M71.5 369h1.2M91 370h1.2M69 356h1.2M81.5 373h1.2M75.5 372h1.2M75 374.5h1.2M96.5 372h1.2M85 372.5h1.2M62.5 371h1.2M67.5 367.5h1.2M76.5 370.5h1.2M77 369.5h1.2M76.5 361h1.2M67 377.5h1.2M75 366h1.2M66 378h1.2M71.5 368.5h1.2M67 370.5h1.2M72.5 378.5h1.2M68.5 371h1.2M81 379.5h1.2M69.5 369h1.2M69.5 360h1.2M66 362.5h1.2M68.5 370.5h1.2M80.5 372.5h1.2M67.5 361h1.2M69 373h1.2M65.5 378h1.2M66 364h1.2M62 367h1.2M65.5 376.5h1.2M72 368h1.2M75.5 373.5h1.2M72.5 368h1.2M67.5 368.5h1.2M69.5 370.5h1.2M68 363h1.2M70 364h1.2M83 374.5h1.2M67 367h1.2M71 370.5h1.2M56.5 370h1.2M67.5 370h1.2M67.5 367.5h1.2M75.5 366.5h1.2M71.5 373.5h1.2M78 374.5h1.2M82.5 373.5h1.2M66.5 371h1.2M70 362h1.2M68 363h1.2M70 378h1.2M66.5 357h1.2M64.5 374.5h1.2M61 360.5h1.2M62 370h1.2M66.5 379.5h1.2M63 381h1.2M69 362h1.2M63.5 362.5h1.2M63 360.5h1.2M76 375h1.2M68.5 364.5h1.2M61.5 378.5h1.2M74 362h1.2M86 369.5h1.2M75 373.5h1.2M66 365.5h1.2M56 365.5h1.2M62.5 375h1.2M79 372.5h1.2M72 378.5h1.2M85.5 377.5h1.2M77 367h1.2M69.5 373h1.2M71.5 371.5h1.2M72.5 371.5h1.2M80 375h1.2M74.5 375h1.2M85 374h1.2M72 360.5h1.2M74 374.5h1.2M65 356.5h1.2M61.5 368h1.2M84.5 372h1.2M60.5 359.5h1.2M72 372.5h1.2M70.5 380.5h1.2M90 360.5h1.2M61 380.5h1.2M76.5 376.5h1.2M58.5 378h1.2M85 355h1.2M78 380.5h1.2M80 356.5h1.2M72 376h1.2M76 357.5h1.2M61 381.5h1.2M64.5 364h1.2M89 378.5h1.2M77 367.5h1.2M83.5 368.5h1.2M73 370.5h1.2M71 354.5h1.2M86 363h1.2M87 359h1.2M90.5 368h1.2M82.5 368h1.2M83 358.5h1.2M83 369h1.2M64 378.5h1.2M62.5 363.5h1.2M73 356.5h1.2M166.5 291h1.2M158 318.5h1.2M164 316h1.2M171.5 305h1.2M163 301.5h1.2M161.5 318h1.2M155.5 299h1.2M164.5 306.5h1.2M161 305.5h1.2M148 314.5h1.2M160.5 323.5h1.2M159 307.5h1.2M163 318h1.2M165.5 320.5h1.2M171.5 292.5h1.2M158 306.5h1.2M152.5 317.5h1.2M158.5 328.5h1.2M167 308h1.2M162.5 313h1.2M171.5 310.5h1.2M162 309.5h1.2M164.5 322h1.2M163.5 303h1.2M154 321h1.2M167 309.5h1.2M164 311h1.2M166 314.5h1.2M158.5 313h1.2M153.5 337h1.2M162 306.5h1.2M161.5 329h1.2M157.5 292h1.2M163.5 304.5h1.2M163.5 309h1.2M158.5 299.5h1.2M166 312.5h1.2M160.5 305.5h1.2M152.5 290.5h1.2M170 323.5h1.2M164 324.5h1.2M165 330h1.2M166 309h1.2M164 300.5h1.2M163.5 315h1.2M157.5 310h1.2M164.5 317.5h1.2M164 329.5h1.2M167 316h1.2M160 311h1.2M157.5 316h1.2M168.5 303h1.2M154.5 298.5h1.2M162.5 275.5h1.2M156 302.5h1.2M162.5 306h1.2M156 321.5h1.2M165 306.5h1.2M157.5 319.5h1.2M152 293h1.2M155 312.5h1.2M165.5 303h1.2M174 334h1.2M151 316h1.2M165.5 295h1.2M160.5 320.5h1.2M163.5 302h1.2M163.5 304.5h1.2M154.5 315h1.2M170.5 309.5h1.2M159.5 303h1.2M165.5 320h1.2M167 309.5h1.2M162 304h1.2M164.5 311.5h1.2M165 327.5h1.2M166 311h1.2M164 300.5h1.2M163 310.5h1.2M157 313h1.2M162 349h1.2M170 299.5h1.2M163 293h1.2M162 302.5h1.2M175 319.5h1.2M155 310h1.2M168.5 322.5h1.2M157.5 320.5h1.2M159.5 312h1.2M171 322.5h1.2M164.5 322.5h1.2M156 311h1.2M158 339.5h1.2M162 316h1.2M161.5 306.5h1.2M159.5 307h1.2M172.5 318h1.2M157.5 294h1.2M154 307.5h1.2M143.5 316.5h1.2M169 302h1.2M166 325.5h1.2M165.5 314h1.2M165 305h1.2M164.5 299h1.2M155 313.5h1.2M153.5 308h1.2M155 310.5h1.2M165 319.5h1.2M161 329h1.2M148.5 318h1.2M165 302h1.2M162.5 292h1.2M161.5 328.5h1.2M162 300h1.2M155.5 322.5h1.2M158.5 301h1.2M159 287.5h1.2M157.5 317h1.2M162.5 324.5h1.2M163 306.5h1.2M160.5 321h1.2M162.5 322.5h1.2M169.5 323h1.2M161.5 296.5h1.2M157 316.5h1.2M170 299h1.2M169.5 311h1.2M154 301.5h1.2M154.5 309.5h1.2M160.5 316h1.2M152 327.5h1.2M154.5 309.5h1.2M166 311h1.2M155.5 322h1.2M160 300.5h1.2M177.5 306h1.2M149.5 298.5h1.2M161.5 301h1.2M160 300.5h1.2M161.5 320h1.2M154.5 314.5h1.2M164.5 331.5h1.2M147 317h1.2M167 313h1.2M160.5 321.5h1.2M158.5 319.5h1.2M169.5 327.5h1.2M163 305h1.2M172 321h1.2M165.5 319h1.2M157.5 331.5h1.2M165 302h1.2M151.5 317.5h1.2M170 306.5h1.2M157 308h1.2M156 316h1.2M160 325.5h1.2M161.5 317h1.2M158 316.5h1.2M168.5 319.5h1.2M172 315h1.2M157 317.5h1.2M162 312.5h1.2M136.5 273h1.2M165.5 307.5h1.2M164.5 316h1.2M160 309h1.2M140.5 319h1.2M172.5 318h1.2M133 328h1.2M142 323.5h1.2M166.5 312h1.2M156 320.5h1.2M127.5 316h1.2M159 308h1.2M145.5 322h1.2M137.5 316.5h1.2M149.5 336h1.2M143.5 319h1.2M172 309.5h1.2M159.5 313.5h1.2M146.5 336h1.2M147.5 307h1.2M173.5 331.5h1.2M157.5 305.5h1.2M145 305.5h1.2M142 326.5h1.2M175 321.5h1.2M156.5 317.5h1.2M162 314h1.2M153.5 318h1.2M163 336.5h1.2M173.5 288h1.2M153 306h1.2M148.5 322h1.2M146.5 312.5h1.2M150.5 322.5h1.2M148.5 300.5h1.2M163 312h1.2M155.5 310.5h1.2M145 295h1.2M157 334h1.2M168 326h1.2M154.5 330.5h1.2M156.5 296.5h1.2M164.5 326h1.2M170.5 279h1.2M151 317.5h1.2M150.5 309h1.2M164.5 308h1.2M150 326h1.2M159 327.5h1.2M158.5 308h1.2" fill="none" stroke="#333" stroke-width="1.2" opacity="0.85"/>
<rect x="54.6" y="249.5" width="132.4" height="132.9" fill="none" stroke="#000" stroke-width="1.4"/>
<path d="M54.6 382.4h-3.8M54.6 372.4h-2.4M54.6 366.55h-2.4M54.6 362.4h-2.4M54.6 359.18h-2.4M54.6 356.55h-2.4M54.6 354.32h-2.4M54.6 352.39h-2.4M54.6 350.7h-2.4M54.6 349.17h-3.8M54.6 339.17h-2.4M54.6 333.32h-2.4M54.6 329.17h-2.4M54.6 325.95h-2.4M54.6 323.32h-2.4M54.6 321.1h-2.4M54.6 319.17h-2.4M54.6 317.47h-2.4M54.6 315.95h-3.8M54.6 305.95h-2.4M54.6 300.1h-2.4M54.6 295.95h-2.4M54.6 292.73h-2.4M54.6 290.1h-2.4M54.6 287.87h-2.4M54.6 285.94h-2.4M54.6 284.25h-2.4M54.6 282.73h-3.8M54.6 272.72h-2.4M54.6 266.87h-2.4M54.6 262.72h-2.4M54.6 259.5h-2.4M54.6 256.87h-2.4M54.6 254.65h-2.4M54.6 252.72h-2.4M54.6 251.02h-2.4M54.6 249.5h-3.8" fill="none" stroke="#000" stroke-width="1.15"/>
<path d="M54.6 382.4v3.2M64.56 382.4v2M70.39 382.4v2M74.53 382.4v2M77.74 382.4v2M80.36 382.4v2M82.57 382.4v2M84.49 382.4v2M86.19 382.4v2M87.7 382.4v3.2M97.66 382.4v2M103.49 382.4v2M107.63 382.4v2M110.84 382.4v2M113.46 382.4v2M115.67 382.4v2M117.59 382.4v2M119.29 382.4v2M120.8 382.4v3.2M130.76 382.4v2M136.59 382.4v2M140.73 382.4v2M143.94 382.4v2M146.56 382.4v2M148.77 382.4v2M150.69 382.4v2M152.39 382.4v2M153.9 382.4v3.2M163.86 382.4v2M169.69 382.4v2M173.83 382.4v2M177.04 382.4v2M179.66 382.4v2M181.87 382.4v2M183.79 382.4v2M185.49 382.4v2M187 382.4v3.2" fill="none" stroke="#000" stroke-width="1.15"/>
<rect x="134.5" y="285.8" width="45.5" height="53.7" fill="none" stroke="#000" stroke-width="1.1"/>
<path d="M172.5 303H196V300L203.5 305.5L196 311V308H172.5Z" fill="#000" stroke="none" stroke-width="0"/>
<text x="30.6" y="257" font-size="10.5" fill="#111">10<tspan dx="0.6" dy="-4" font-size="11.3">4</tspan></text>
<text x="30.6" y="290.6" font-size="10.5" fill="#111">10<tspan dx="0.6" dy="-4" font-size="11.3">3</tspan></text>
<text x="30.6" y="323.4" font-size="10.5" fill="#111">10<tspan dx="0.6" dy="-4" font-size="11.3">2</tspan></text>
<text x="30.6" y="355.2" font-size="10.5" fill="#111">10<tspan dx="0.6" dy="-4" font-size="11.3">1</tspan></text>
<text x="30.6" y="385.6" font-size="10.5" fill="#111">10<tspan dx="0.6" dy="-4" font-size="11.3">0</tspan></text>
<text x="49.2" y="397" font-size="10.5" fill="#111">10<tspan dx="0.6" dy="-4" font-size="11.3">0</tspan></text>
<text x="80.4" y="397" font-size="10.5" fill="#111">10<tspan dx="0.6" dy="-4" font-size="11.3">1</tspan></text>
<text x="112.8" y="397" font-size="10.5" fill="#111">10<tspan dx="0.6" dy="-4" font-size="11.3">2</tspan></text>
<text x="147.2" y="397" font-size="10.5" fill="#111">10<tspan dx="0.6" dy="-4" font-size="11.3">3</tspan></text>
<text x="181.3" y="397" font-size="10.5" fill="#111">10<tspan dx="0.6" dy="-4" font-size="11.3">4</tspan></text>
<text x="25.3" y="267.5" font-size="13" text-anchor="middle" transform="rotate(-90 25.3 267.5)" fill="#111">CD5</text>
<text x="164.5" y="411.3" font-size="13" text-anchor="start" fill="#111">IgM</text>
<path d="M22.6 297V409.6H144" fill="none" stroke="#000" stroke-width="1.2"/>
<path d="M22.6 291.2L18.7 299H26.5Z" fill="#000" stroke="none" stroke-width="0"/>
<path d="M150.5 409.6L142.5 405.7V413.5Z" fill="#000" stroke="none" stroke-width="0"/>
<text x="240" y="245.5" font-size="13" text-anchor="start" fill="#111">CD5<tspan font-size="8.5" dy="-3">lo</tspan><tspan dy="3">IgM</tspan><tspan font-size="8" dy="-3.2">+</tspan></text>
<path d="M241.3 379.8V250H375.3V379.8" fill="none" stroke="#000" stroke-width="1.4"/>
<line x1="240.6" y1="379.8" x2="376" y2="379.8" stroke="#000" stroke-width="1.4"/>
<path d="M241.3 250h-4.5M241.3 256.8h-2.6M241.3 263.6h-2.6M241.3 270.4h-2.6M241.3 277.2h-4.5M241.3 284h-2.6M241.3 290.8h-2.6M241.3 297.6h-2.6M241.3 304.4h-4.5M241.3 311.2h-2.6M241.3 318h-2.6M241.3 324.8h-2.6M241.3 331.6h-4.5M241.3 338.4h-2.6M241.3 345.2h-2.6M241.3 352h-2.6M241.3 358.8h-4.5M241.3 365.6h-2.6M241.3 372.4h-2.6M241.3 379.2h-2.6" fill="none" stroke="#000" stroke-width="1.15"/>
<path d="M241.3 379.8v3.8M251.38 379.8v2M257.28 379.8v2M261.47 379.8v2M264.72 379.8v2M267.37 379.8v2M269.61 379.8v2M271.55 379.8v2M273.27 379.8v2M274.8 379.8v3.8M284.88 379.8v2M290.78 379.8v2M294.97 379.8v2M298.22 379.8v2M300.87 379.8v2M303.11 379.8v2M305.05 379.8v2M306.77 379.8v2M308.3 379.8v3.8M318.38 379.8v2M324.28 379.8v2M328.47 379.8v2M331.72 379.8v2M334.37 379.8v2M336.61 379.8v2M338.55 379.8v2M340.27 379.8v2M341.8 379.8v3.8M351.88 379.8v2M357.78 379.8v2M361.97 379.8v2M365.22 379.8v2M367.87 379.8v2M370.11 379.8v2M372.05 379.8v2M373.77 379.8v2M375.3 379.8v3.8" fill="none" stroke="#000" stroke-width="1"/>
<text x="231.7" y="259.5" font-size="12.5" text-anchor="end" fill="#111">50</text>
<text x="231.7" y="282" font-size="12.5" text-anchor="end" fill="#111">40</text>
<text x="231.7" y="310.7" font-size="12.5" text-anchor="end" fill="#111">30</text>
<text x="231.7" y="338.7" font-size="12.5" text-anchor="end" fill="#111">20</text>
<text x="231.7" y="365.5" font-size="12.5" text-anchor="end" fill="#111">10</text>
<text x="229.6" y="392" font-size="12.5" text-anchor="end" fill="#111">0</text>
<text x="215.9" y="311.3" font-size="13" text-anchor="middle" transform="rotate(-90 215.9 311.3)" fill="#111">counts</text>
<text x="236.2" y="397.9" font-size="10.5" fill="#111">10<tspan dx="0.6" dy="-4" font-size="11.3">0</tspan></text>
<text x="266.7" y="397.9" font-size="10.5" fill="#111">10<tspan dx="0.6" dy="-4" font-size="11.3">1</tspan></text>
<text x="298" y="397.9" font-size="10.5" fill="#111">10<tspan dx="0.6" dy="-4" font-size="11.3">2</tspan></text>
<text x="331.5" y="397.9" font-size="10.5" fill="#111">10<tspan dx="0.6" dy="-4" font-size="11.3">3</tspan></text>
<text x="366.3" y="397.9" font-size="10.5" fill="#111">10<tspan dx="0.6" dy="-4" font-size="11.3">4</tspan></text>
<text x="245" y="288.8" font-size="13" text-anchor="start" fill="#111">CD45.2-</text>
<text x="314.2" y="288.8" font-size="13" text-anchor="start" fill="#111">CD45.2+</text>
<path d="M245 300.3 V296.8 Q245 295.3 246.5 295.3 H300.3 Q301.8 295.3 301.8 296.8 V300.3" fill="none" stroke="#000" stroke-width="1.4"/>
<path d="M304.2 300.3 V296.8 Q304.2 295.3 305.7 295.3 H369.8 Q371.3 295.3 371.3 296.8 V300.3" fill="none" stroke="#000" stroke-width="1.4"/>
<path d="M241.6 305L241.8 347.87L243.05 364.3L244.3 362.53L245.55 364.52L246.8 364.96L248.05 360.27L249.3 360.26L250.55 367.9L251.8 362.11L253.05 361.41L254.3 368.13L255.55 363.61L256.8 367.3L258.05 364.29L259.3 366.1L260.55 361.65L261.8 365.79L263.05 367.62L264.3 364.14L265.55 365.83L266.8 365.21L268.05 359.83L269.3 366.43L270.55 365.1L271.8 362.64L273.05 360.34L274.3 368.19L275.55 364.87L276.8 370.13L278.05 371.8L279.3 371L280.55 372.13L281.8 369.46L283.05 371.63L284.3 369.84L285.55 372.45L286.8 372.21L288.05 368.21L289.3 368.41L290.55 368.83L291.8 372.72L293.05 369.97L294.3 370.96L295.55 369.27L296.8 370.26L298.05 369.5L299.3 369.19L300.55 370.29L301.8 370.16L303.05 371.67L304.3 369.65L305.55 370.07L306.8 368.84L308.05 368.5L309.3 365.59L310.55 362.1L311.8 363.44L313.05 362.3L314.3 360.49L315.55 357.45L316.8 356.16L318.05 352.26L319.3 352.55L320.55 348.86L321.8 344.46L323.05 340.21L324.3 339.88L325.55 336.43L326.8 327.05L328.05 326.67L329.3 318.39L330.55 313.68L331.8 313.32L333.05 316.12L334.3 316.68L335.55 310.92L336.8 315.3L338.05 311.99L339.3 318.65L340.55 318.1L341.8 325.45L343.05 329.24L344.3 333.43L345.55 343.93L346.8 348.52L348.05 354.29L349.3 362.1L350.55 364.09L351.8 367.09L353.05 369.18L354.3 371.24L355.55 370.67L356.8 371.96L358.05 374.82L359.3 374.36L360.55 376.79L361.8 377.45L363.05 376.99L364.3 377.97L365.55 378.56L366.8 378.9L368.05 378.82L369.3 378.77L370.55 378.95L371.8 379L373.05 378.76L374.3 378.61" fill="none" stroke="#000" stroke-width="1.1" stroke-linejoin="bevel"/>
<path d="M362.5 379l1.1-3.6l1.1 3.6l1.1-4l1.1 4l1.1-3.6l1.1 3.6l1.1-4l1.1 4l1.1-3.6l1.1 3.6l1.1-3l1.1 3" fill="none" stroke="#111" stroke-width="0.8"/>
<line x1="228.8" y1="413.3" x2="317" y2="413.3" stroke="#000" stroke-width="1.2"/>
<path d="M323.5 413.3L315.5 409.4V417.2Z" fill="#000" stroke="none" stroke-width="0"/>
<text x="333.7" y="413.8" font-size="13" text-anchor="start" fill="#111">CD45.2</text>
<path d="M274.4 418H278.2V428H280.5L276.3 434.5L272.1 428H274.4Z" fill="#000" stroke="none" stroke-width="0"/>
<path d="M346.3 418H350.7V429.8H353.3L348.5 436.3L343.7 429.8H346.3Z" fill="#000" stroke="none" stroke-width="0"/>
<rect x="57.8" y="441.2" width="2" height="126.8" fill="#000"/>
<rect x="54.8" y="565.6" width="147.2" height="2.4" fill="#000"/>
<path d="M58.8 552.93h-4M58.8 539.07h-4M58.8 525.2h-4M58.8 511.33h-4M58.8 497.47h-4M58.8 483.6h-4M58.8 469.73h-4M58.8 455.87h-4M58.8 442h-4" fill="none" stroke="#000" stroke-width="1.6"/>
<text x="50.2" y="570.85" font-size="13" text-anchor="end" fill="#111">0</text>
<text x="47.6" y="543.05" font-size="13" text-anchor="end" fill="#111">20</text>
<text x="47.6" y="515.25" font-size="13" text-anchor="end" fill="#111">40</text>
<text x="47.6" y="487.45" font-size="13" text-anchor="end" fill="#111">60</text>
<text x="47.6" y="459.65" font-size="13" text-anchor="end" fill="#111">80</text>
<text x="27.3" y="488.4" font-size="13" text-anchor="middle" transform="rotate(-90 27.3 488.4)" fill="#111">%of recovered B1a cells</text>
<text x="62.3" y="440" font-size="12.5" text-anchor="start" fill="#111">4w</text>
<line x1="94.5" y1="524.8" x2="94.5" y2="529" stroke="#000" stroke-width="1.5"/>
<line x1="82" y1="524.8" x2="107" y2="524.8" stroke="#000" stroke-width="1.5"/>
<rect x="69.5" y="528" width="50" height="38.8" fill="#000"/>
<line x1="166.25" y1="456.3" x2="166.25" y2="467.2" stroke="#000" stroke-width="1.5"/>
<line x1="153.75" y1="456.3" x2="178.75" y2="456.3" stroke="#000" stroke-width="2"/>
<rect x="142.7" y="466.9" width="47.1" height="99.2" fill="#fff" stroke="#000" stroke-width="1.4"/>
<path d="M94.5 451.3 V445.3 Q94.5 443.8 96 443.8 H164.8 Q166.3 443.8 166.3 445.3 V450" fill="none" stroke="#000" stroke-width="1.5"/>
<text x="153.2" y="444.2" font-size="11.5" text-anchor="middle" fill="#111">***</text>
<rect x="242" y="439.2" width="2" height="126.8" fill="#000"/>
<rect x="239" y="563.6" width="146.8" height="2.4" fill="#000"/>
<path d="M243 550.93h-4M243 537.07h-4M243 523.2h-4M243 509.33h-4M243 495.47h-4M243 481.6h-4M243 467.73h-4M243 453.87h-4M243 440h-4" fill="none" stroke="#000" stroke-width="1.6"/>
<text x="236.6" y="571.05" font-size="13" text-anchor="end" fill="#111">0</text>
<text x="232.6" y="542.87" font-size="13" text-anchor="end" fill="#111">20</text>
<text x="232.6" y="514.69" font-size="13" text-anchor="end" fill="#111">40</text>
<text x="232.6" y="486.51" font-size="13" text-anchor="end" fill="#111">60</text>
<text x="232.6" y="458.33" font-size="13" text-anchor="end" fill="#111">80</text>
<text x="215" y="502.5" font-size="13" text-anchor="middle" transform="rotate(-90 215 502.5)" fill="#111">%of recovered B1a cells</text>
<text x="247.3" y="439.6" font-size="12.5" text-anchor="start" fill="#111">6w</text>
<line x1="278.9" y1="525.2" x2="278.9" y2="529.6" stroke="#000" stroke-width="1.5"/>
<line x1="266.4" y1="525.2" x2="291.4" y2="525.2" stroke="#000" stroke-width="1.5"/>
<rect x="254.5" y="528.6" width="48.8" height="36.2" fill="#000"/>
<line x1="349.15" y1="451.3" x2="349.15" y2="463.5" stroke="#000" stroke-width="1.5"/>
<line x1="336.65" y1="451.3" x2="361.65" y2="451.3" stroke="#000" stroke-width="2"/>
<rect x="325.7" y="463.2" width="46.9" height="100.9" fill="#fff" stroke="#000" stroke-width="1.4"/>
<path d="M279.5 446.5 V444.7 Q279.5 443.2 281 443.2 H346 Q347.5 443.2 347.5 444.7 V446.5" fill="none" stroke="#000" stroke-width="1.5"/>
<text x="325.7" y="440.3" font-size="11.5" text-anchor="middle" fill="#111">***</text>
<text x="69.5" y="581.3" font-size="13" text-anchor="start" fill="#111">CD45.2-</text>
<text x="70.3" y="601.3" font-size="13" text-anchor="start" fill="#111">(=wt)</text>
<text x="139.3" y="581.3" font-size="13" text-anchor="start" fill="#111">CD45.2+</text>
<text x="139.3" y="601.3" font-size="13" text-anchor="start" fill="#111">(=<tspan font-style="italic" dx="1.5">Siglecg-/-</tspan><tspan dx="1.5">)</tspan></text>
<text x="248.7" y="580.8" font-size="13" text-anchor="start" fill="#111">CD45.2-</text>
<text x="249.3" y="601.3" font-size="13" text-anchor="start" fill="#111">(=wt)</text>
<text x="322" y="580.8" font-size="13" text-anchor="start" fill="#111">CD45.2+</text>
<text x="322" y="601.3" font-size="13" text-anchor="start" fill="#111">(=<tspan font-style="italic" dx="1.5">Siglecg-/-</tspan><tspan dx="1.5">)</tspan></text>
<text x="0.8" y="642.4" font-size="18.5" text-anchor="start" fill="#111">C</text>
<text x="63.7" y="638.8" font-size="13" text-anchor="start" fill="#111">CD5<tspan font-size="8.5" dy="-3">lo</tspan><tspan dy="3" dx="3.5">IgM</tspan><tspan font-size="8" dy="-3.2">+</tspan></text>
<path d="M54.5 792.7V792.56H55.8V792.7H57.1V791.16H58.4V790.46H59.7V789.94H61V787.51H62.3V788.06H63.6V787.85H64.9V788.16H66.2V784.73H67.5V786.2H68.8V785.51H70.1V789.21H71.4V788.85H72.7V784.04H74V787.87H75.3V786.15H76.6V782.65H77.9V782.5H79.2V779.33H80.5V778.44H81.8V781.36H83.1V776.17H84.4V775.29H85.7V773.84H87V769.33H88.3V768.74H89.6V764.86H90.9V762.97H92.2V755.76H93.5V751.76H94.8V747.43H96.1V748.93H97.4V749.27H98.7V750.97H100V759.5H101.3V762.13H102.6V755.29H103.9V748.39H105.2V738.34H106.5V731.55H107.8V738.48H109.1V744.76H110.4V756.28H111.7V749.48H113V748.26H114.3V739.57H115.6V742.84H116.9V746.48H118.2V748.74H119.5V754.87H120.8V761.47H122.1V762.74H123.4V772.14H124.7V772.46H126V774.29H127.3V778.49H128.6V779.05H129.9V776.94H131.2V777.36H132.5V780.79H133.8V786.97H135.1V786.87H136.4V784.85H137.7V787.4H139V788.79H140.3V789.99H141.6V792.31H142.9V791.24H144.2V792.47H145.5V792.41H146.8V791.94H148.1V792.7H149.4V791.87H150.7V792.7H152V791.89H153.3V792.48H154.6V792.11H155.9V792.24H157.2V792.7H158.5V792.7H159.8V792.16H161.1V792.7H162.4V791.53H163.7V791.71H165" fill="none" stroke="#a8a8a8" stroke-width="2" stroke-linejoin="round"/>
<path d="M54.5 792.7V792.7H55.8V792.7H57.1V792.7H58.4V792.65H59.7V792.7H61V790.69H62.3V791.73H63.6V792.7H64.9V792.09H66.2V792.7H67.5V790.49H68.8V791.4H70.1V790.52H71.4V791.19H72.7V791.07H74V788.97H75.3V788.45H76.6V786.47H77.9V788.71H79.2V787.87H80.5V784.23H81.8V788.33H83.1V784.48H84.4V787.5H85.7V784.77H87V783.36H88.3V788.05H89.6V782.47H90.9V781.44H92.2V786.56H93.5V784.64H94.8V778.93H96.1V783.27H97.4V778.85H98.7V778.92H100V774.49H101.3V779.73H102.6V777.08H103.9V778.67H105.2V777.7H106.5V772.55H107.8V772.66H109.1V771.23H110.4V772.37H111.7V773.02H113V772.51H114.3V770.21H115.6V760.7H116.9V764.52H118.2V762.92H119.5V763.81H120.8V771.53H122.1V772.95H123.4V775.49H124.7V780.45H126V782.84H127.3V776.36H128.6V782.4H129.9V776.18H131.2V783.62H132.5V786.01H133.8V780.62H135.1V787.23H136.4V785.33H137.7V787.75H139V786.08H140.3V787.72H141.6V789.39H142.9V792.7H144.2V791.3H145.5V792.7H146.8V792.7H148.1V792.7H149.4V792.16H150.7V792.3H152V792.57H153.3V792.7H154.6V791.46H155.9V792.7H157.2V792.7H158.5V792.7H159.8V791.39H161.1V792.7H162.4V791.73H163.7V792.34H165V792.7H166.3" fill="none" stroke="#000" stroke-width="2.1" stroke-linejoin="round"/>
<path d="M54.5 792.7V792.7H55.7V792.7H56.9V792.7H58.1V792.7H59.3V792.7H60.5V792.7H61.7V792.7H62.9V792.7H64.1V792.7H65.3V792.7H66.5V792.7H67.7V792.7H68.9V792.7H70.1V792.7H71.3V792.7H72.5V792.7H73.7V792.7H74.9V792.7H76.1V792.7H77.3V792.7H78.5V792.7H79.7V792.7H80.9V792.7H82.1V792.7H83.3V792.7H84.5V792.7H85.7V792.7H86.9V792.7H88.1V792.7H89.3V792.7H90.5V792.7H91.7V792.7H92.9V792.7H94.1V792.7H95.3V792.7H96.5V792.7H97.7V792.7H98.9V792.7H100.1V792.7H101.3V792.7H102.5V792.7H103.7V792.7H104.9V792.7H106.1V792.7H107.3V792.7H108.5V792.7H109.7V792.7H110.9V792.7H112.1V792.7H113.3V792.7H114.5V792.7H115.7V792.7H116.9V792.7H118.1V792.7H119.3V792.7H120.5V792.7H121.7V792.7H122.9V792.7H124.1V792.7H125.3V792.7H126.5V792.7H127.7V792.7H128.9V792.7H130.1V792.7H131.3V792.7H132.5V792.7H133.7V792.7H134.9V792.7H136.1V792.7H137.3V792.7H138.5V792.7H139.7V792.7H140.9V792.7H142.1V792.7H143.3V792.7H144.5V792.7H145.7V792.7H146.9V792.7H148.1V792.7H149.3V792.7H150.5V792.7H151.7V792.7H152.9V792.7H154.1V792.7H155.3V792.7H156.5V792.7H157.7V792.7H158.9V792.7H160.1V792.7H161.3V792.7H162.5V792.03H163.7V783H164.9V769.81H166.1V760.17H167.3V738.5H168.5V715.25H169.7V688.99H170.9V660.6H172.1V647.26H173.3V646.12H174.5V652.58H175.7V669.68H176.9V692.98H178.1V724.92H179.3V750.35H180.5V763.27H181.7V771.1H182.9V774.16H184.1V776.39H185.3V779.46H186.5V779.35H187.7V780.86H188.9V783.62H190.1V784.28H191.3V785.04H192.5V787.63H193.7V786.71H194.9V787.24H196.1V788.45H197.3V788.72H198.5V788.62H199.7V787.26H200.9V787.32H202.1V787.4H203.3V789.09H204.5" fill="none" stroke="#222" stroke-width="1.2" stroke-dasharray="4 2.8"/>
<rect x="53.8" y="644.3" width="152.5" height="149.3" fill="none" stroke="#000" stroke-width="1.4"/>
<path d="M53.8 793h-4.2M53.8 788.47h-2.4M53.8 783.93h-2.4M53.8 779.4h-2.4M53.8 774.86h-2.4M53.8 770.33h-4.2M53.8 765.8h-2.4M53.8 761.26h-2.4M53.8 756.73h-2.4M53.8 752.19h-2.4M53.8 747.66h-4.2M53.8 743.13h-2.4M53.8 738.59h-2.4M53.8 734.06h-2.4M53.8 729.52h-2.4M53.8 724.99h-4.2M53.8 720.46h-2.4M53.8 715.92h-2.4M53.8 711.39h-2.4M53.8 706.85h-2.4M53.8 702.32h-4.2M53.8 697.79h-2.4M53.8 693.25h-2.4M53.8 688.72h-2.4M53.8 684.18h-2.4M53.8 679.65h-4.2M53.8 675.12h-2.4M53.8 670.58h-2.4M53.8 666.05h-2.4M53.8 661.51h-2.4M53.8 656.98h-4.2M53.8 652.45h-2.4M53.8 647.91h-2.4" fill="none" stroke="#000" stroke-width="1.1"/>
<path d="M53.8 793.6v3.2M65.28 793.6v1.8M71.99 793.6v1.8M76.75 793.6v1.8M80.45 793.6v1.8M83.47 793.6v1.8M86.02 793.6v1.8M88.23 793.6v1.8M90.18 793.6v1.8M91.92 793.6v3.2M103.4 793.6v1.8M110.12 793.6v1.8M114.88 793.6v1.8M118.57 793.6v1.8M121.59 793.6v1.8M124.14 793.6v1.8M126.36 793.6v1.8M128.31 793.6v1.8M130.05 793.6v3.2M141.53 793.6v1.8M148.24 793.6v1.8M153 793.6v1.8M156.7 793.6v1.8M159.72 793.6v1.8M162.27 793.6v1.8M164.48 793.6v1.8M166.43 793.6v1.8M168.18 793.6v3.2M179.65 793.6v1.8M186.37 793.6v1.8M191.13 793.6v1.8M194.82 793.6v1.8M197.84 793.6v1.8M200.39 793.6v1.8M202.61 793.6v1.8M204.56 793.6v1.8M206.3 793.6v3.2" fill="none" stroke="#000" stroke-width="1"/>
<text x="46.3" y="659" font-size="12.5" text-anchor="end" fill="#111">60</text>
<text x="46.3" y="684" font-size="12.5" text-anchor="end" fill="#111">50</text>
<text x="46.3" y="703.3" font-size="12.5" text-anchor="end" fill="#111">40</text>
<text x="46.3" y="728" font-size="12.5" text-anchor="end" fill="#111">30</text>
<text x="46.3" y="751.3" font-size="12.5" text-anchor="end" fill="#111">20</text>
<text x="46.3" y="772.7" font-size="12.5" text-anchor="end" fill="#111">10</text>
<text x="46.3" y="794" font-size="12.5" text-anchor="end" fill="#111">0</text>
<text x="26.3" y="703" font-size="13" text-anchor="middle" transform="rotate(-90 26.3 703)" fill="#111">counts</text>
<text x="48.8" y="810.6" font-size="10.5" fill="#111">10<tspan dx="0.6" dy="-4" font-size="11.3">0</tspan></text>
<text x="86.3" y="810.6" font-size="10.5" fill="#111">10<tspan dx="0.6" dy="-4" font-size="11.3">1</tspan></text>
<text x="123.8" y="810.6" font-size="10.5" fill="#111">10<tspan dx="0.6" dy="-4" font-size="11.3">2</tspan></text>
<text x="161.3" y="810.6" font-size="10.5" fill="#111">10<tspan dx="0.6" dy="-4" font-size="11.3">3</tspan></text>
<text x="196.5" y="810.6" font-size="10.5" fill="#111">10<tspan dx="0.6" dy="-4" font-size="11.3">4</tspan></text>
<line x1="60.5" y1="655" x2="80.6" y2="655" stroke="#666" stroke-width="1.4" stroke-dasharray="4.6 3.6"/>
<line x1="60.8" y1="670.8" x2="80.8" y2="670.8" stroke="#000" stroke-width="2.2"/>
<line x1="60.8" y1="685.3" x2="80.8" y2="685.3" stroke="#aaa" stroke-width="2"/>
<text x="85.2" y="656.7" font-size="11.75" text-anchor="start" fill="#111">Loadingcontrol (input)</text>
<text x="85" y="675.5" font-size="11.7" text-anchor="start" fill="#111">CD45.2- (=wt)</text>
<text x="85.2" y="691.9" font-size="11.7" text-anchor="start" fill="#111">CD45.2+ (=<tspan font-style="italic" dx="1">Siglecg-/-</tspan>)</text>
<rect x="251.8" y="665.3" width="1.4" height="127.65" fill="#000"/>
<rect x="249.5" y="791.05" width="92.5" height="1.9" fill="#000"/>
<path d="M252.5 749.93h-1.8M252.5 707.87h-1.8M252.5 665.8h-1.8" fill="none" stroke="#000" stroke-width="1.3"/>
<text x="248" y="672.5" font-size="12.5" text-anchor="end" fill="#111">30</text>
<text x="248" y="714.5" font-size="12.5" text-anchor="end" fill="#111">20</text>
<text x="248" y="757.3" font-size="12.5" text-anchor="end" fill="#111">10</text>
<text x="250.3" y="799" font-size="12.5" text-anchor="end" fill="#111">0</text>
<text x="230.2" y="731.2" font-size="12.5" text-anchor="middle" transform="rotate(-90 230.2 731.2)" fill="#111">CFSE (mfi)</text>
<text x="261.8" y="657.4" font-size="12.5" text-anchor="start" fill="#111">4w</text>
<line x1="275.65" y1="675.5" x2="275.65" y2="705.5" stroke="#000" stroke-width="1.1"/>
<line x1="268.15" y1="675.5" x2="283.15" y2="675.5" stroke="#000" stroke-width="1.1"/>
<rect x="260.8" y="704.5" width="29.7" height="87.5" fill="#000"/>
<line x1="319.5" y1="714" x2="319.5" y2="738.5" stroke="#000" stroke-width="1.1"/>
<line x1="312" y1="714" x2="327" y2="714" stroke="#000" stroke-width="2"/>
<rect x="305.2" y="738.2" width="28.6" height="53.1" fill="#fff" stroke="#000" stroke-width="1.4"/>
<text x="270" y="805.8" font-size="13" text-anchor="start" fill="#111">wt</text>
<text x="297.5" y="805.8" font-size="13" text-anchor="start" font-style="italic" fill="#111">Siglecg-/-</text>
<rect x="378.9" y="663.2" width="1.4" height="128.4" fill="#000"/>
<rect x="376.6" y="789" width="91.4" height="2.6" fill="#000"/>
<path d="M379.6 748.1h-1.8M379.6 705.9h-1.8M379.6 663.7h-1.8" fill="none" stroke="#000" stroke-width="1.3"/>
<text x="377" y="669.3" font-size="12.5" text-anchor="end" fill="#111">30</text>
<text x="377" y="711.3" font-size="12.5" text-anchor="end" fill="#111">20</text>
<text x="377" y="753.5" font-size="12.5" text-anchor="end" fill="#111">10</text>
<text x="377" y="797.1" font-size="12.5" text-anchor="end" fill="#111">0</text>
<text x="356" y="728.3" font-size="13.1" text-anchor="middle" transform="rotate(-90 356 728.3)" fill="#111">CFSE (mfi)</text>
<text x="385.8" y="658.8" font-size="12.5" text-anchor="start" fill="#111">6w</text>
<line x1="401.5" y1="714.9" x2="401.5" y2="743.3" stroke="#000" stroke-width="1.4"/>
<line x1="394.25" y1="714.9" x2="408.75" y2="714.9" stroke="#000" stroke-width="1.4"/>
<rect x="386.3" y="742.3" width="30.4" height="48" fill="#000"/>
<line x1="445.05" y1="749" x2="445.05" y2="763.5" stroke="#000" stroke-width="1.4"/>
<line x1="437.8" y1="749" x2="452.3" y2="749" stroke="#000" stroke-width="2"/>
<rect x="430.55" y="763.35" width="29" height="26.1" fill="#fff" stroke="#000" stroke-width="1.7"/>
<text x="395.7" y="803.4" font-size="13" text-anchor="start" fill="#111">wt</text>
<text x="421.6" y="803.4" font-size="13" text-anchor="start" font-style="italic" fill="#111">Siglecg-/-</text>
</svg>
</body>
</html>
